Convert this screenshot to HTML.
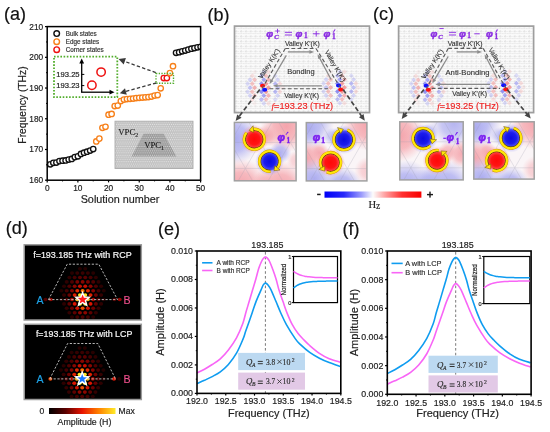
<!DOCTYPE html><html><head><meta charset="utf-8"><style>html,body{margin:0;padding:0;background:#fff;}svg{display:block;will-change:transform;}</style></head><body>
<svg width="550" height="432" viewBox="0 0 550 432">
<rect width="550" height="432" fill="#fff"/>
<text x="4" y="20.4" font-size="18" fill="#111" text-anchor="start" font-family='"Liberation Sans", sans-serif' font-weight="normal" font-style="normal" stroke="#111" stroke-width="0.18" >(a)</text>
<line x1="45" y1="180.2" x2="47.2" y2="180.2" stroke="#000" stroke-width="1.2"/>
<text x="43.2" y="183.1" font-size="8.3" fill="#222" text-anchor="end" font-family='"Liberation Sans", sans-serif' font-weight="normal" font-style="normal" stroke="#222" stroke-width="0.18" >160</text>
<line x1="45" y1="149.48" x2="47.2" y2="149.48" stroke="#000" stroke-width="1.2"/>
<text x="43.2" y="152.38" font-size="8.3" fill="#222" text-anchor="end" font-family='"Liberation Sans", sans-serif' font-weight="normal" font-style="normal" stroke="#222" stroke-width="0.18" >170</text>
<line x1="45" y1="118.76" x2="47.2" y2="118.76" stroke="#000" stroke-width="1.2"/>
<text x="43.2" y="121.66" font-size="8.3" fill="#222" text-anchor="end" font-family='"Liberation Sans", sans-serif' font-weight="normal" font-style="normal" stroke="#222" stroke-width="0.18" >180</text>
<line x1="45" y1="88.04" x2="47.2" y2="88.04" stroke="#000" stroke-width="1.2"/>
<text x="43.2" y="90.94" font-size="8.3" fill="#222" text-anchor="end" font-family='"Liberation Sans", sans-serif' font-weight="normal" font-style="normal" stroke="#222" stroke-width="0.18" >190</text>
<line x1="45" y1="57.32" x2="47.2" y2="57.32" stroke="#000" stroke-width="1.2"/>
<text x="43.2" y="60.22" font-size="8.3" fill="#222" text-anchor="end" font-family='"Liberation Sans", sans-serif' font-weight="normal" font-style="normal" stroke="#222" stroke-width="0.18" >200</text>
<line x1="45" y1="26.6" x2="47.2" y2="26.6" stroke="#000" stroke-width="1.2"/>
<text x="43.2" y="29.5" font-size="8.3" fill="#222" text-anchor="end" font-family='"Liberation Sans", sans-serif' font-weight="normal" font-style="normal" stroke="#222" stroke-width="0.18" >210</text>
<line x1="46" y1="164.84" x2="47.2" y2="164.84" stroke="#000" stroke-width="1"/>
<line x1="46" y1="134.12" x2="47.2" y2="134.12" stroke="#000" stroke-width="1"/>
<line x1="46" y1="103.4" x2="47.2" y2="103.4" stroke="#000" stroke-width="1"/>
<line x1="46" y1="72.68" x2="47.2" y2="72.68" stroke="#000" stroke-width="1"/>
<line x1="46" y1="41.96" x2="47.2" y2="41.96" stroke="#000" stroke-width="1"/>
<line x1="47.2" y1="180.2" x2="47.2" y2="182.4" stroke="#000" stroke-width="1.2"/>
<text x="47.2" y="191" font-size="8.3" fill="#222" text-anchor="middle" font-family='"Liberation Sans", sans-serif' font-weight="normal" font-style="normal" stroke="#222" stroke-width="0.18" >0</text>
<line x1="77.88" y1="180.2" x2="77.88" y2="182.4" stroke="#000" stroke-width="1.2"/>
<text x="77.88" y="191" font-size="8.3" fill="#222" text-anchor="middle" font-family='"Liberation Sans", sans-serif' font-weight="normal" font-style="normal" stroke="#222" stroke-width="0.18" >10</text>
<line x1="108.56" y1="180.2" x2="108.56" y2="182.4" stroke="#000" stroke-width="1.2"/>
<text x="108.56" y="191" font-size="8.3" fill="#222" text-anchor="middle" font-family='"Liberation Sans", sans-serif' font-weight="normal" font-style="normal" stroke="#222" stroke-width="0.18" >20</text>
<line x1="139.24" y1="180.2" x2="139.24" y2="182.4" stroke="#000" stroke-width="1.2"/>
<text x="139.24" y="191" font-size="8.3" fill="#222" text-anchor="middle" font-family='"Liberation Sans", sans-serif' font-weight="normal" font-style="normal" stroke="#222" stroke-width="0.18" >30</text>
<line x1="169.92" y1="180.2" x2="169.92" y2="182.4" stroke="#000" stroke-width="1.2"/>
<text x="169.92" y="191" font-size="8.3" fill="#222" text-anchor="middle" font-family='"Liberation Sans", sans-serif' font-weight="normal" font-style="normal" stroke="#222" stroke-width="0.18" >40</text>
<line x1="200.6" y1="180.2" x2="200.6" y2="182.4" stroke="#000" stroke-width="1.2"/>
<text x="200.6" y="191" font-size="8.3" fill="#222" text-anchor="middle" font-family='"Liberation Sans", sans-serif' font-weight="normal" font-style="normal" stroke="#222" stroke-width="0.18" >50</text>
<line x1="62.54" y1="180.2" x2="62.54" y2="181.4" stroke="#000" stroke-width="1"/>
<line x1="93.22" y1="180.2" x2="93.22" y2="181.4" stroke="#000" stroke-width="1"/>
<line x1="123.9" y1="180.2" x2="123.9" y2="181.4" stroke="#000" stroke-width="1"/>
<line x1="154.58" y1="180.2" x2="154.58" y2="181.4" stroke="#000" stroke-width="1"/>
<line x1="185.26" y1="180.2" x2="185.26" y2="181.4" stroke="#000" stroke-width="1"/>
<text x="0" y="0" font-size="10.3" fill="#222" text-anchor="middle" font-family='"Liberation Sans", sans-serif' font-weight="normal" font-style="normal" stroke="#222" stroke-width="0.18" transform="translate(26.3,105) rotate(-90)">Frequency (THz)</text>
<text x="120" y="203.4" font-size="10.8" fill="#222" text-anchor="middle" font-family='"Liberation Sans", sans-serif' font-weight="normal" font-style="normal" stroke="#222" stroke-width="0.18" >Solution number</text>
<defs><pattern id="hexw" width="1.9" height="4.4" patternUnits="userSpaceOnUse"><circle cx="0.47" cy="1.1" r="0.5" fill="#f2f2f2"/><circle cx="1.42" cy="3.3" r="0.5" fill="#f2f2f2"/></pattern><pattern id="hexd" width="1.9" height="4.4" patternUnits="userSpaceOnUse"><circle cx="0.47" cy="1.1" r="0.55" fill="#dcdcdc"/><circle cx="1.42" cy="3.3" r="0.55" fill="#dcdcdc"/></pattern></defs>
<rect x="115" y="121.2" width="78" height="47.3" fill="#c2c2c2" stroke="#ababab" stroke-width="0.9"/>
<rect x="115.5" y="121.7" width="77" height="46.3" fill="url(#hexw)"/>
<polygon points="143.6,133.8 163.6,133.8 176.4,156.4 131.6,156.4" fill="#9a9a9a"/>
<polygon points="143.6,133.8 163.6,133.8 176.4,156.4 131.6,156.4" fill="url(#hexd)"/>
<text x="118.3" y="134.8" font-size="8.7" fill="#1a1a1a" text-anchor="start" font-family='"Liberation Serif", serif' font-weight="normal" font-style="normal" stroke="#1a1a1a" stroke-width="0.15">VPC<tspan font-size="5.8" dy="1.9">2</tspan></text>
<text x="144.2" y="147.6" font-size="8.7" fill="#1a1a1a" text-anchor="start" font-family='"Liberation Serif", serif' font-weight="normal" font-style="normal" stroke="#1a1a1a" stroke-width="0.15">VPC<tspan font-size="5.8" dy="1.9">1</tspan></text>
<clipPath id="clipa"><rect x="47.2" y="26.6" width="153.4" height="153.6"/></clipPath>
<g clip-path="url(#clipa)">
<circle cx="50.27" cy="164.3" r="2.7" fill="#fff" stroke="#111" stroke-width="1.35"/>
<circle cx="53.34" cy="162.8" r="2.7" fill="#fff" stroke="#111" stroke-width="1.35"/>
<circle cx="56.4" cy="162.5" r="2.7" fill="#fff" stroke="#111" stroke-width="1.35"/>
<circle cx="59.47" cy="161.1" r="2.7" fill="#fff" stroke="#111" stroke-width="1.35"/>
<circle cx="62.54" cy="160.7" r="2.7" fill="#fff" stroke="#111" stroke-width="1.35"/>
<circle cx="65.61" cy="160.4" r="2.7" fill="#fff" stroke="#111" stroke-width="1.35"/>
<circle cx="68.68" cy="159.5" r="2.7" fill="#fff" stroke="#111" stroke-width="1.35"/>
<circle cx="71.74" cy="158.9" r="2.7" fill="#fff" stroke="#111" stroke-width="1.35"/>
<circle cx="74.81" cy="157.1" r="2.7" fill="#fff" stroke="#111" stroke-width="1.35"/>
<circle cx="77.88" cy="156.3" r="2.7" fill="#fff" stroke="#111" stroke-width="1.35"/>
<circle cx="80.95" cy="153.9" r="2.7" fill="#fff" stroke="#111" stroke-width="1.35"/>
<circle cx="84.02" cy="152.7" r="2.7" fill="#fff" stroke="#111" stroke-width="1.35"/>
<circle cx="87.08" cy="151.7" r="2.7" fill="#fff" stroke="#111" stroke-width="1.35"/>
<circle cx="90.15" cy="150.5" r="2.7" fill="#fff" stroke="#111" stroke-width="1.35"/>
<circle cx="93.22" cy="149" r="2.7" fill="#fff" stroke="#111" stroke-width="1.35"/>
<circle cx="96.29" cy="141.4" r="2.7" fill="#fff" stroke="#f7801a" stroke-width="1.35"/>
<circle cx="99.36" cy="138.6" r="2.7" fill="#fff" stroke="#f7801a" stroke-width="1.35"/>
<circle cx="102.42" cy="127.8" r="2.7" fill="#fff" stroke="#f7801a" stroke-width="1.35"/>
<circle cx="105.49" cy="126.8" r="2.7" fill="#fff" stroke="#f7801a" stroke-width="1.35"/>
<circle cx="108.56" cy="114.7" r="2.7" fill="#fff" stroke="#f7801a" stroke-width="1.35"/>
<circle cx="111.63" cy="113.9" r="2.7" fill="#fff" stroke="#f7801a" stroke-width="1.35"/>
<circle cx="114.7" cy="106" r="2.7" fill="#fff" stroke="#f7801a" stroke-width="1.35"/>
<circle cx="117.76" cy="105.5" r="2.7" fill="#fff" stroke="#f7801a" stroke-width="1.35"/>
<circle cx="120.83" cy="101" r="2.7" fill="#fff" stroke="#f7801a" stroke-width="1.35"/>
<circle cx="123.9" cy="99.5" r="2.7" fill="#fff" stroke="#f7801a" stroke-width="1.35"/>
<circle cx="126.97" cy="99" r="2.7" fill="#fff" stroke="#f7801a" stroke-width="1.35"/>
<circle cx="130.04" cy="98.8" r="2.7" fill="#fff" stroke="#f7801a" stroke-width="1.35"/>
<circle cx="133.1" cy="98.5" r="2.7" fill="#fff" stroke="#f7801a" stroke-width="1.35"/>
<circle cx="136.17" cy="98" r="2.7" fill="#fff" stroke="#f7801a" stroke-width="1.35"/>
<circle cx="139.24" cy="97.8" r="2.7" fill="#fff" stroke="#f7801a" stroke-width="1.35"/>
<circle cx="142.31" cy="97.5" r="2.7" fill="#fff" stroke="#f7801a" stroke-width="1.35"/>
<circle cx="145.38" cy="97.3" r="2.7" fill="#fff" stroke="#f7801a" stroke-width="1.35"/>
<circle cx="148.44" cy="97" r="2.7" fill="#fff" stroke="#f7801a" stroke-width="1.35"/>
<circle cx="151.51" cy="96.5" r="2.7" fill="#fff" stroke="#f7801a" stroke-width="1.35"/>
<circle cx="154.58" cy="95.5" r="2.7" fill="#fff" stroke="#f7801a" stroke-width="1.35"/>
<circle cx="157.65" cy="95" r="2.7" fill="#fff" stroke="#f7801a" stroke-width="1.35"/>
<circle cx="160.72" cy="88.3" r="2.7" fill="#fff" stroke="#f7801a" stroke-width="1.35"/>
<circle cx="163.78" cy="78" r="2.7" fill="#fff" stroke="#ee1111" stroke-width="1.35"/>
<circle cx="166.85" cy="78" r="2.7" fill="#fff" stroke="#ee1111" stroke-width="1.35"/>
<circle cx="169.92" cy="73" r="2.7" fill="#fff" stroke="#f7801a" stroke-width="1.35"/>
<circle cx="172.99" cy="66.2" r="2.7" fill="#fff" stroke="#f7801a" stroke-width="1.35"/>
<circle cx="176.06" cy="52.8" r="2.7" fill="#fff" stroke="#111" stroke-width="1.35"/>
<circle cx="179.12" cy="52.2" r="2.7" fill="#fff" stroke="#111" stroke-width="1.35"/>
<circle cx="182.19" cy="51.3" r="2.7" fill="#fff" stroke="#111" stroke-width="1.35"/>
<circle cx="185.26" cy="50.5" r="2.7" fill="#fff" stroke="#111" stroke-width="1.35"/>
<circle cx="188.33" cy="49.6" r="2.7" fill="#fff" stroke="#111" stroke-width="1.35"/>
<circle cx="191.4" cy="48.7" r="2.7" fill="#fff" stroke="#111" stroke-width="1.35"/>
<circle cx="194.46" cy="48" r="2.7" fill="#fff" stroke="#111" stroke-width="1.35"/>
<circle cx="197.53" cy="47.3" r="2.7" fill="#fff" stroke="#111" stroke-width="1.35"/>
<circle cx="200.6" cy="46.8" r="2.7" fill="#fff" stroke="#111" stroke-width="1.35"/>
</g>
<rect x="47.2" y="26.6" width="153.4" height="153.6" fill="none" stroke="#000" stroke-width="1.5"/>
<circle cx="56.7" cy="33.6" r="2.8" fill="#fff" stroke="#111" stroke-width="1.4"/>
<text x="65.8" y="35.8" font-size="6.3" fill="#333" text-anchor="start" font-family='"Liberation Sans", sans-serif' font-weight="normal" font-style="normal" stroke="#333" stroke-width="0.18" >Bulk states</text>
<circle cx="56.7" cy="41.65" r="2.8" fill="#fff" stroke="#f7801a" stroke-width="1.4"/>
<text x="65.8" y="43.85" font-size="6.3" fill="#333" text-anchor="start" font-family='"Liberation Sans", sans-serif' font-weight="normal" font-style="normal" stroke="#333" stroke-width="0.18" >Edge states</text>
<circle cx="56.7" cy="49.7" r="2.8" fill="#fff" stroke="#ee1111" stroke-width="1.4"/>
<text x="65.8" y="51.9" font-size="6.3" fill="#333" text-anchor="start" font-family='"Liberation Sans", sans-serif' font-weight="normal" font-style="normal" stroke="#333" stroke-width="0.18" >Corner states</text>
<rect x="54" y="56.7" width="63.3" height="40.5" fill="none" stroke="#52ad2c" stroke-width="1.8" stroke-dasharray="1.6 1.6"/>
<rect x="156" y="73.5" width="17.5" height="9.8" fill="none" stroke="#52ad2c" stroke-width="1.4" stroke-dasharray="1.3 1.4"/>
<line x1="81.7" y1="92.2" x2="81.7" y2="62" stroke="#000" stroke-width="1.3"/>
<polygon points="81.7,58.5 79.3,63.5 84.1,63.5" fill="#000"/>
<line x1="81.1" y1="92.2" x2="110.5" y2="92.2" stroke="#000" stroke-width="1.3"/>
<polygon points="114.5,92.2 109.5,89.8 109.5,94.6" fill="#000"/>
<line x1="81.7" y1="74.4" x2="84.3" y2="74.4" stroke="#000" stroke-width="1"/>
<line x1="81.7" y1="85.6" x2="84.3" y2="85.6" stroke="#000" stroke-width="1"/>
<text x="79.6" y="77.1" font-size="7.6" fill="#222" text-anchor="end" font-family='"Liberation Sans", sans-serif' font-weight="normal" font-style="normal" stroke="#222" stroke-width="0.18" >193.25</text>
<text x="79.6" y="88.3" font-size="7.6" fill="#222" text-anchor="end" font-family='"Liberation Sans", sans-serif' font-weight="normal" font-style="normal" stroke="#222" stroke-width="0.18" >193.23</text>
<circle cx="101.1" cy="72.1" r="4.2" fill="none" stroke="#ee1111" stroke-width="1.5"/>
<circle cx="91.9" cy="85.2" r="4.2" fill="none" stroke="#ee1111" stroke-width="1.5"/>
<line x1="155.8" y1="72.6" x2="124" y2="61.2" stroke="#3a3a3a" stroke-width="1.3" stroke-dasharray="3.4 2.2"/>
<polygon points="118.6,59.0 125.9,57.9 123.7,64.4" fill="#3a3a3a"/>
<line x1="156.3" y1="83" x2="125" y2="91.6" stroke="#3a3a3a" stroke-width="1.3" stroke-dasharray="3.4 2.2"/>
<polygon points="119.8,93.2 125.0,88.3 126.8,94.7" fill="#3a3a3a"/>
<defs><pattern id="hexbg" width="4.8" height="5.0" patternUnits="userSpaceOnUse"><polygon points="1.2,0.4 2.1,1.9 0.3,1.9" fill="none" stroke="#cbcbcb" stroke-width="0.45"/><circle cx="3.6" cy="1.3" r="0.4" fill="#d2d2d2"/><rect x="0.2" y="3.5" width="1.9" height="0.55" fill="#dadada"/><rect x="2.6" y="3.5" width="1.9" height="0.55" fill="#dadada"/></pattern><radialGradient id="gMR"><stop offset="0" stop-color="#ff0808"/><stop offset="0.55" stop-color="#ff1414"/><stop offset="0.85" stop-color="#ff3c3c" stop-opacity="0.9"/><stop offset="1" stop-color="#ff7070" stop-opacity="0.3"/></radialGradient><radialGradient id="gMB"><stop offset="0" stop-color="#0c0ce0"/><stop offset="0.55" stop-color="#1c1cec"/><stop offset="0.85" stop-color="#4444f4" stop-opacity="0.9"/><stop offset="1" stop-color="#7070f8" stop-opacity="0.3"/></radialGradient><radialGradient id="gHR"><stop offset="0.45" stop-color="#ff6060" stop-opacity="0.75"/><stop offset="1" stop-color="#ff9090" stop-opacity="0"/></radialGradient><radialGradient id="gHB"><stop offset="0.45" stop-color="#6060ff" stop-opacity="0.75"/><stop offset="1" stop-color="#9090ff" stop-opacity="0"/></radialGradient><radialGradient id="gLR"><stop offset="0" stop-color="#f4a4ac" stop-opacity="1"/><stop offset="0.5" stop-color="#f6b2b8" stop-opacity="0.9"/><stop offset="1" stop-color="#f8c0c4" stop-opacity="0"/></radialGradient><radialGradient id="gLB"><stop offset="0" stop-color="#aaaaee" stop-opacity="1"/><stop offset="0.5" stop-color="#b8b8f2" stop-opacity="0.9"/><stop offset="1" stop-color="#c4c4f4" stop-opacity="0"/></radialGradient><linearGradient id="cbHz" x1="0" x2="1" y1="0" y2="0"><stop offset="0" stop-color="#0000f8"/><stop offset="0.2" stop-color="#2828fa"/><stop offset="0.38" stop-color="#9a9afc"/><stop offset="0.5" stop-color="#fcfcfc"/><stop offset="0.62" stop-color="#ffa4a4"/><stop offset="0.8" stop-color="#ff3030"/><stop offset="1" stop-color="#f80000"/></linearGradient></defs>
<text x="207.6" y="21" font-size="18" fill="#111" text-anchor="start" font-family='"Liberation Sans", sans-serif' font-weight="normal" font-style="normal" stroke="#111" stroke-width="0.18" >(b)</text>
<rect x="234.5" y="26.1" width="135" height="86.5" fill="#fafafa"/>
<rect x="234.5" y="26.1" width="135" height="86.5" fill="url(#hexbg)"/>
<rect x="252.85" y="70.13" width="3.5" height="3.5" fill="#f07a7a" opacity="0.07" transform="rotate(45 254.6 71.88)"/>
<rect x="262.05" y="70.13" width="3.5" height="3.5" fill="#6a6af0" opacity="0.22" transform="rotate(45 263.8 71.88)"/>
<rect x="266.65" y="70.13" width="3.5" height="3.5" fill="#f07a7a" opacity="0.19" transform="rotate(45 268.4 71.88)"/>
<rect x="250.55" y="74.08" width="3.5" height="3.5" fill="#f07a7a" opacity="0.2" transform="rotate(45 252.3 75.83)"/>
<rect x="259.75" y="74.08" width="3.5" height="3.5" fill="#6a6af0" opacity="0.41" transform="rotate(45 261.5 75.83)"/>
<rect x="264.35" y="74.08" width="3.5" height="3.5" fill="#f07a7a" opacity="0.41" transform="rotate(45 266.1 75.83)"/>
<rect x="273.55" y="74.08" width="3.5" height="3.5" fill="#6a6af0" opacity="0.2" transform="rotate(45 275.3 75.83)"/>
<rect x="248.25" y="78.04" width="3.5" height="3.5" fill="#6a6af0" opacity="0.25" transform="rotate(45 250 79.79)"/>
<rect x="252.85" y="78.04" width="3.5" height="3.5" fill="#f07a7a" opacity="0.42" transform="rotate(45 254.6 79.79)"/>
<rect x="262.05" y="78.04" width="3.5" height="3.5" fill="#6a6af0" opacity="0.58" transform="rotate(45 263.8 79.79)"/>
<rect x="266.65" y="78.04" width="3.5" height="3.5" fill="#f07a7a" opacity="0.53" transform="rotate(45 268.4 79.79)"/>
<rect x="275.85" y="78.04" width="3.5" height="3.5" fill="#6a6af0" opacity="0.25" transform="rotate(45 277.6 79.79)"/>
<rect x="245.95" y="81.99" width="3.5" height="3.5" fill="#6a6af0" opacity="0.22" transform="rotate(45 247.7 83.74)"/>
<rect x="250.55" y="81.99" width="3.5" height="3.5" fill="#f07a7a" opacity="0.43" transform="rotate(45 252.3 83.74)"/>
<rect x="259.75" y="81.99" width="3.5" height="3.5" fill="#6a6af0" opacity="0.7" transform="rotate(45 261.5 83.74)"/>
<rect x="264.35" y="81.99" width="3.5" height="3.5" fill="#f07a7a" opacity="0.7" transform="rotate(45 266.1 83.74)"/>
<rect x="273.55" y="81.99" width="3.5" height="3.5" fill="#6a6af0" opacity="0.43" transform="rotate(45 275.3 83.74)"/>
<rect x="278.15" y="81.99" width="3.5" height="3.5" fill="#f07a7a" opacity="0.22" transform="rotate(45 279.9 83.74)"/>
<rect x="248.25" y="85.95" width="3.5" height="3.5" fill="#6a6af0" opacity="0.36" transform="rotate(45 250 87.7)"/>
<rect x="252.85" y="85.95" width="3.5" height="3.5" fill="#f07a7a" opacity="0.54" transform="rotate(45 254.6 87.7)"/>
<rect x="266.65" y="85.95" width="3.5" height="3.5" fill="#f07a7a" opacity="0.7" transform="rotate(45 268.4 87.7)"/>
<rect x="275.85" y="85.95" width="3.5" height="3.5" fill="#6a6af0" opacity="0.36" transform="rotate(45 277.6 87.7)"/>
<rect x="280.45" y="85.95" width="3.5" height="3.5" fill="#f07a7a" opacity="0.11" transform="rotate(45 282.2 87.7)"/>
<rect x="245.95" y="89.91" width="3.5" height="3.5" fill="#6a6af0" opacity="0.22" transform="rotate(45 247.7 91.66)"/>
<rect x="250.55" y="89.91" width="3.5" height="3.5" fill="#f07a7a" opacity="0.43" transform="rotate(45 252.3 91.66)"/>
<rect x="259.75" y="89.91" width="3.5" height="3.5" fill="#6a6af0" opacity="0.7" transform="rotate(45 261.5 91.66)"/>
<rect x="264.35" y="89.91" width="3.5" height="3.5" fill="#f07a7a" opacity="0.7" transform="rotate(45 266.1 91.66)"/>
<rect x="273.55" y="89.91" width="3.5" height="3.5" fill="#6a6af0" opacity="0.43" transform="rotate(45 275.3 91.66)"/>
<rect x="278.15" y="89.91" width="3.5" height="3.5" fill="#f07a7a" opacity="0.22" transform="rotate(45 279.9 91.66)"/>
<rect x="248.25" y="93.86" width="3.5" height="3.5" fill="#6a6af0" opacity="0.25" transform="rotate(45 250 95.61)"/>
<rect x="252.85" y="93.86" width="3.5" height="3.5" fill="#f07a7a" opacity="0.42" transform="rotate(45 254.6 95.61)"/>
<rect x="262.05" y="93.86" width="3.5" height="3.5" fill="#6a6af0" opacity="0.58" transform="rotate(45 263.8 95.61)"/>
<rect x="266.65" y="93.86" width="3.5" height="3.5" fill="#f07a7a" opacity="0.53" transform="rotate(45 268.4 95.61)"/>
<rect x="275.85" y="93.86" width="3.5" height="3.5" fill="#6a6af0" opacity="0.25" transform="rotate(45 277.6 95.61)"/>
<rect x="250.55" y="97.82" width="3.5" height="3.5" fill="#f07a7a" opacity="0.2" transform="rotate(45 252.3 99.57)"/>
<rect x="259.75" y="97.82" width="3.5" height="3.5" fill="#6a6af0" opacity="0.41" transform="rotate(45 261.5 99.57)"/>
<rect x="264.35" y="97.82" width="3.5" height="3.5" fill="#f07a7a" opacity="0.41" transform="rotate(45 266.1 99.57)"/>
<rect x="273.55" y="97.82" width="3.5" height="3.5" fill="#6a6af0" opacity="0.2" transform="rotate(45 275.3 99.57)"/>
<rect x="252.85" y="101.77" width="3.5" height="3.5" fill="#f07a7a" opacity="0.07" transform="rotate(45 254.6 103.52)"/>
<rect x="262.05" y="101.77" width="3.5" height="3.5" fill="#6a6af0" opacity="0.22" transform="rotate(45 263.8 103.52)"/>
<rect x="266.65" y="101.77" width="3.5" height="3.5" fill="#f07a7a" opacity="0.19" transform="rotate(45 268.4 103.52)"/>
<ellipse cx="262.6" cy="85.7" rx="2.6" ry="2.0" fill="#ff1010"/>
<ellipse cx="264.7" cy="89.7" rx="2.6" ry="2.0" fill="#1010ff"/>
<rect x="328.85" y="69.93" width="3.5" height="3.5" fill="#f07a7a" opacity="0.07" transform="rotate(45 330.6 71.68)"/>
<rect x="338.05" y="69.93" width="3.5" height="3.5" fill="#6a6af0" opacity="0.22" transform="rotate(45 339.8 71.68)"/>
<rect x="342.65" y="69.93" width="3.5" height="3.5" fill="#f07a7a" opacity="0.19" transform="rotate(45 344.4 71.68)"/>
<rect x="326.55" y="73.88" width="3.5" height="3.5" fill="#f07a7a" opacity="0.2" transform="rotate(45 328.3 75.63)"/>
<rect x="335.75" y="73.88" width="3.5" height="3.5" fill="#6a6af0" opacity="0.41" transform="rotate(45 337.5 75.63)"/>
<rect x="340.35" y="73.88" width="3.5" height="3.5" fill="#f07a7a" opacity="0.41" transform="rotate(45 342.1 75.63)"/>
<rect x="349.55" y="73.88" width="3.5" height="3.5" fill="#6a6af0" opacity="0.2" transform="rotate(45 351.3 75.63)"/>
<rect x="324.25" y="77.84" width="3.5" height="3.5" fill="#6a6af0" opacity="0.25" transform="rotate(45 326 79.59)"/>
<rect x="328.85" y="77.84" width="3.5" height="3.5" fill="#f07a7a" opacity="0.42" transform="rotate(45 330.6 79.59)"/>
<rect x="338.05" y="77.84" width="3.5" height="3.5" fill="#6a6af0" opacity="0.58" transform="rotate(45 339.8 79.59)"/>
<rect x="342.65" y="77.84" width="3.5" height="3.5" fill="#f07a7a" opacity="0.53" transform="rotate(45 344.4 79.59)"/>
<rect x="351.85" y="77.84" width="3.5" height="3.5" fill="#6a6af0" opacity="0.25" transform="rotate(45 353.6 79.59)"/>
<rect x="321.95" y="81.79" width="3.5" height="3.5" fill="#6a6af0" opacity="0.22" transform="rotate(45 323.7 83.54)"/>
<rect x="326.55" y="81.79" width="3.5" height="3.5" fill="#f07a7a" opacity="0.43" transform="rotate(45 328.3 83.54)"/>
<rect x="335.75" y="81.79" width="3.5" height="3.5" fill="#6a6af0" opacity="0.7" transform="rotate(45 337.5 83.54)"/>
<rect x="340.35" y="81.79" width="3.5" height="3.5" fill="#f07a7a" opacity="0.7" transform="rotate(45 342.1 83.54)"/>
<rect x="349.55" y="81.79" width="3.5" height="3.5" fill="#6a6af0" opacity="0.43" transform="rotate(45 351.3 83.54)"/>
<rect x="354.15" y="81.79" width="3.5" height="3.5" fill="#f07a7a" opacity="0.22" transform="rotate(45 355.9 83.54)"/>
<rect x="324.25" y="85.75" width="3.5" height="3.5" fill="#6a6af0" opacity="0.36" transform="rotate(45 326 87.5)"/>
<rect x="328.85" y="85.75" width="3.5" height="3.5" fill="#f07a7a" opacity="0.54" transform="rotate(45 330.6 87.5)"/>
<rect x="342.65" y="85.75" width="3.5" height="3.5" fill="#f07a7a" opacity="0.7" transform="rotate(45 344.4 87.5)"/>
<rect x="351.85" y="85.75" width="3.5" height="3.5" fill="#6a6af0" opacity="0.36" transform="rotate(45 353.6 87.5)"/>
<rect x="356.45" y="85.75" width="3.5" height="3.5" fill="#f07a7a" opacity="0.11" transform="rotate(45 358.2 87.5)"/>
<rect x="321.95" y="89.71" width="3.5" height="3.5" fill="#6a6af0" opacity="0.22" transform="rotate(45 323.7 91.46)"/>
<rect x="326.55" y="89.71" width="3.5" height="3.5" fill="#f07a7a" opacity="0.43" transform="rotate(45 328.3 91.46)"/>
<rect x="335.75" y="89.71" width="3.5" height="3.5" fill="#6a6af0" opacity="0.7" transform="rotate(45 337.5 91.46)"/>
<rect x="340.35" y="89.71" width="3.5" height="3.5" fill="#f07a7a" opacity="0.7" transform="rotate(45 342.1 91.46)"/>
<rect x="349.55" y="89.71" width="3.5" height="3.5" fill="#6a6af0" opacity="0.43" transform="rotate(45 351.3 91.46)"/>
<rect x="354.15" y="89.71" width="3.5" height="3.5" fill="#f07a7a" opacity="0.22" transform="rotate(45 355.9 91.46)"/>
<rect x="324.25" y="93.66" width="3.5" height="3.5" fill="#6a6af0" opacity="0.25" transform="rotate(45 326 95.41)"/>
<rect x="328.85" y="93.66" width="3.5" height="3.5" fill="#f07a7a" opacity="0.42" transform="rotate(45 330.6 95.41)"/>
<rect x="338.05" y="93.66" width="3.5" height="3.5" fill="#6a6af0" opacity="0.58" transform="rotate(45 339.8 95.41)"/>
<rect x="342.65" y="93.66" width="3.5" height="3.5" fill="#f07a7a" opacity="0.53" transform="rotate(45 344.4 95.41)"/>
<rect x="351.85" y="93.66" width="3.5" height="3.5" fill="#6a6af0" opacity="0.25" transform="rotate(45 353.6 95.41)"/>
<rect x="326.55" y="97.62" width="3.5" height="3.5" fill="#f07a7a" opacity="0.2" transform="rotate(45 328.3 99.37)"/>
<rect x="335.75" y="97.62" width="3.5" height="3.5" fill="#6a6af0" opacity="0.41" transform="rotate(45 337.5 99.37)"/>
<rect x="340.35" y="97.62" width="3.5" height="3.5" fill="#f07a7a" opacity="0.41" transform="rotate(45 342.1 99.37)"/>
<rect x="349.55" y="97.62" width="3.5" height="3.5" fill="#6a6af0" opacity="0.2" transform="rotate(45 351.3 99.37)"/>
<rect x="328.85" y="101.57" width="3.5" height="3.5" fill="#f07a7a" opacity="0.07" transform="rotate(45 330.6 103.32)"/>
<rect x="338.05" y="101.57" width="3.5" height="3.5" fill="#6a6af0" opacity="0.22" transform="rotate(45 339.8 103.32)"/>
<rect x="342.65" y="101.57" width="3.5" height="3.5" fill="#f07a7a" opacity="0.19" transform="rotate(45 344.4 103.32)"/>
<ellipse cx="338.6" cy="85.5" rx="2.6" ry="2.0" fill="#1010ff"/>
<ellipse cx="340.7" cy="89.5" rx="2.6" ry="2.0" fill="#ff1010"/>
<rect x="234.5" y="26.1" width="135" height="86.5" fill="none" stroke="#9e9e9e" stroke-width="1.7"/>
<line x1="285.3" y1="48.5" x2="316" y2="48.5" stroke="#5c5c5c" stroke-width="1.15" stroke-dasharray="3.8 2.3"/>
<line x1="285.3" y1="48.5" x2="262" y2="88.6" stroke="#5c5c5c" stroke-width="1.15" stroke-dasharray="3.8 2.3"/>
<line x1="316" y1="48.5" x2="341" y2="88.6" stroke="#5c5c5c" stroke-width="1.15" stroke-dasharray="3.8 2.3"/>
<line x1="269.5" y1="88.7" x2="330" y2="88.7" stroke="#5c5c5c" stroke-width="1.15" stroke-dasharray="3.8 2.3"/>
<line x1="287.8" y1="51.9" x2="309.9" y2="51.9" stroke="#8c8c8c" stroke-width="1.3"/>
<polygon points="314,51.9 309.4,53.7 309.4,50.1" fill="#8c8c8c"/>
<line x1="286.3" y1="55.4" x2="271.67" y2="80.46" stroke="#8c8c8c" stroke-width="1.3"/>
<polygon points="269.6,84 270.37,79.12 273.47,80.94" fill="#8c8c8c"/>
<line x1="321.8" y1="85.8" x2="277.1" y2="85.8" stroke="#8c8c8c" stroke-width="1.3"/>
<polygon points="273,85.8 277.6,84 277.6,87.6" fill="#8c8c8c"/>
<line x1="331.1" y1="79.5" x2="319.53" y2="57.82" stroke="#8c8c8c" stroke-width="1.3"/>
<polygon points="317.6,54.2 321.35,57.41 318.18,59.11" fill="#8c8c8c"/>
<text x="302.3" y="45.9" font-size="6.8" fill="#333" stroke="#333" stroke-width="0.12" text-anchor="middle" font-family='"Liberation Sans", sans-serif'>Valley K'(K)</text>
<text x="301.7" y="97.6" font-size="6.8" fill="#333" stroke="#333" stroke-width="0.12" text-anchor="middle" font-family='"Liberation Sans", sans-serif'>Valley K'(K)</text>
<text x="0" y="0" font-size="6.7" fill="#333" stroke="#333" stroke-width="0.12" text-anchor="middle" font-family='"Liberation Sans", sans-serif' transform="translate(269,63.7) rotate(-57.3) translate(0,2.3)">Valley K(K')</text>
<text x="0" y="0" font-size="6.7" fill="#333" stroke="#333" stroke-width="0.12" text-anchor="middle" font-family='"Liberation Sans", sans-serif' transform="translate(335.3,65.9) rotate(60) translate(0,2.3)">Valley K'(K')</text>
<text x="300.9" y="73.5" font-size="7.5" fill="#333" stroke="#333" stroke-width="0.12" text-anchor="middle" font-family='"Liberation Sans", sans-serif'>Bonding</text>
<text x="271.5" y="108.7" font-size="9.2" fill="#ee2020" stroke="#ee2020" stroke-width="0.15" font-family='"Liberation Sans", sans-serif'><tspan font-family='"Liberation Serif", serif' font-style="italic">f</tspan>=193.23 (THz)</text>
<text x="266.3" y="36.6" font-size="9.8" fill="#8a2be2" font-family='"Liberation Sans", sans-serif' font-weight="bold" font-style="italic" stroke="#8a2be2" stroke-width="0.45">φ</text>
<text x="274.2" y="39.4" font-size="6.8" fill="#8a2be2" font-family='"Liberation Serif", serif' font-weight="bold" font-style="italic" stroke="#8a2be2" stroke-width="0.3">C</text>
<rect x="275.3" y="30.55" width="4.3" height="0.9" fill="#8a2be2"/>
<rect x="277" y="28.8" width="0.9" height="4.4" fill="#8a2be2"/>
<rect x="284.8" y="31.82" width="7.2" height="0.95" fill="#8a2be2"/>
<rect x="284.8" y="34.52" width="7.2" height="0.95" fill="#8a2be2"/>
<text x="295.6" y="36.6" font-size="9.8" fill="#8a2be2" font-family='"Liberation Sans", sans-serif' font-weight="bold" font-style="italic" stroke="#8a2be2" stroke-width="0.45">φ</text>
<text x="303.9" y="38.4" font-size="7.4" fill="#8a2be2" font-family='"Liberation Serif", serif' font-weight="bold" font-style="normal" stroke="#8a2be2" stroke-width="0.3">1</text>
<rect x="312.8" y="33.32" width="6.8" height="0.95" fill="#8a2be2"/>
<rect x="315.72" y="31" width="0.95" height="5.6" fill="#8a2be2"/>
<text x="323.5" y="36.6" font-size="9.8" fill="#8a2be2" font-family='"Liberation Sans", sans-serif' font-weight="bold" font-style="italic" stroke="#8a2be2" stroke-width="0.45">φ</text>
<polygon points="334.2,29.4 335.7,29.6 333.3,32.9 332.7,32.7" fill="#8a2be2"/>
<text x="331.9" y="38.9" font-size="7.4" fill="#8a2be2" font-family='"Liberation Serif", serif' font-weight="bold" font-style="normal" stroke="#8a2be2" stroke-width="0.3">1</text>
<line x1="259.8" y1="89.4" x2="239.07" y2="116.47" stroke="#454545" stroke-width="1.7" stroke-dasharray="4.6 2.6"/>
<polygon points="235.6,121 237.15,114.38 241.59,117.78" fill="#454545"/>
<line x1="343.2" y1="89.6" x2="361.56" y2="116.11" stroke="#454545" stroke-width="1.7" stroke-dasharray="4.6 2.6"/>
<polygon points="364.8,120.8 358.97,117.3 363.57,114.11" fill="#454545"/>
<text x="373" y="20.4" font-size="18" fill="#111" text-anchor="start" font-family='"Liberation Sans", sans-serif' font-weight="normal" font-style="normal" stroke="#111" stroke-width="0.18" >(c)</text>
<rect x="398.6" y="26.1" width="135" height="86.5" fill="#fafafa"/>
<rect x="398.6" y="26.1" width="135" height="86.5" fill="url(#hexbg)"/>
<rect x="416.45" y="70.23" width="3.5" height="3.5" fill="#f07a7a" opacity="0.07" transform="rotate(45 418.2 71.98)"/>
<rect x="425.65" y="70.23" width="3.5" height="3.5" fill="#6a6af0" opacity="0.22" transform="rotate(45 427.4 71.98)"/>
<rect x="430.25" y="70.23" width="3.5" height="3.5" fill="#f07a7a" opacity="0.19" transform="rotate(45 432 71.98)"/>
<rect x="414.15" y="74.18" width="3.5" height="3.5" fill="#f07a7a" opacity="0.2" transform="rotate(45 415.9 75.93)"/>
<rect x="423.35" y="74.18" width="3.5" height="3.5" fill="#6a6af0" opacity="0.41" transform="rotate(45 425.1 75.93)"/>
<rect x="427.95" y="74.18" width="3.5" height="3.5" fill="#f07a7a" opacity="0.41" transform="rotate(45 429.7 75.93)"/>
<rect x="437.15" y="74.18" width="3.5" height="3.5" fill="#6a6af0" opacity="0.2" transform="rotate(45 438.9 75.93)"/>
<rect x="411.85" y="78.14" width="3.5" height="3.5" fill="#6a6af0" opacity="0.25" transform="rotate(45 413.6 79.89)"/>
<rect x="416.45" y="78.14" width="3.5" height="3.5" fill="#f07a7a" opacity="0.42" transform="rotate(45 418.2 79.89)"/>
<rect x="425.65" y="78.14" width="3.5" height="3.5" fill="#6a6af0" opacity="0.58" transform="rotate(45 427.4 79.89)"/>
<rect x="430.25" y="78.14" width="3.5" height="3.5" fill="#f07a7a" opacity="0.53" transform="rotate(45 432 79.89)"/>
<rect x="439.45" y="78.14" width="3.5" height="3.5" fill="#6a6af0" opacity="0.25" transform="rotate(45 441.2 79.89)"/>
<rect x="409.55" y="82.09" width="3.5" height="3.5" fill="#6a6af0" opacity="0.22" transform="rotate(45 411.3 83.84)"/>
<rect x="414.15" y="82.09" width="3.5" height="3.5" fill="#f07a7a" opacity="0.43" transform="rotate(45 415.9 83.84)"/>
<rect x="423.35" y="82.09" width="3.5" height="3.5" fill="#6a6af0" opacity="0.7" transform="rotate(45 425.1 83.84)"/>
<rect x="427.95" y="82.09" width="3.5" height="3.5" fill="#f07a7a" opacity="0.7" transform="rotate(45 429.7 83.84)"/>
<rect x="437.15" y="82.09" width="3.5" height="3.5" fill="#6a6af0" opacity="0.43" transform="rotate(45 438.9 83.84)"/>
<rect x="441.75" y="82.09" width="3.5" height="3.5" fill="#f07a7a" opacity="0.22" transform="rotate(45 443.5 83.84)"/>
<rect x="411.85" y="86.05" width="3.5" height="3.5" fill="#6a6af0" opacity="0.36" transform="rotate(45 413.6 87.8)"/>
<rect x="416.45" y="86.05" width="3.5" height="3.5" fill="#f07a7a" opacity="0.54" transform="rotate(45 418.2 87.8)"/>
<rect x="430.25" y="86.05" width="3.5" height="3.5" fill="#f07a7a" opacity="0.7" transform="rotate(45 432 87.8)"/>
<rect x="439.45" y="86.05" width="3.5" height="3.5" fill="#6a6af0" opacity="0.36" transform="rotate(45 441.2 87.8)"/>
<rect x="444.05" y="86.05" width="3.5" height="3.5" fill="#f07a7a" opacity="0.11" transform="rotate(45 445.8 87.8)"/>
<rect x="409.55" y="90.01" width="3.5" height="3.5" fill="#6a6af0" opacity="0.22" transform="rotate(45 411.3 91.76)"/>
<rect x="414.15" y="90.01" width="3.5" height="3.5" fill="#f07a7a" opacity="0.43" transform="rotate(45 415.9 91.76)"/>
<rect x="423.35" y="90.01" width="3.5" height="3.5" fill="#6a6af0" opacity="0.7" transform="rotate(45 425.1 91.76)"/>
<rect x="427.95" y="90.01" width="3.5" height="3.5" fill="#f07a7a" opacity="0.7" transform="rotate(45 429.7 91.76)"/>
<rect x="437.15" y="90.01" width="3.5" height="3.5" fill="#6a6af0" opacity="0.43" transform="rotate(45 438.9 91.76)"/>
<rect x="441.75" y="90.01" width="3.5" height="3.5" fill="#f07a7a" opacity="0.22" transform="rotate(45 443.5 91.76)"/>
<rect x="411.85" y="93.96" width="3.5" height="3.5" fill="#6a6af0" opacity="0.25" transform="rotate(45 413.6 95.71)"/>
<rect x="416.45" y="93.96" width="3.5" height="3.5" fill="#f07a7a" opacity="0.42" transform="rotate(45 418.2 95.71)"/>
<rect x="425.65" y="93.96" width="3.5" height="3.5" fill="#6a6af0" opacity="0.58" transform="rotate(45 427.4 95.71)"/>
<rect x="430.25" y="93.96" width="3.5" height="3.5" fill="#f07a7a" opacity="0.53" transform="rotate(45 432 95.71)"/>
<rect x="439.45" y="93.96" width="3.5" height="3.5" fill="#6a6af0" opacity="0.25" transform="rotate(45 441.2 95.71)"/>
<rect x="414.15" y="97.92" width="3.5" height="3.5" fill="#f07a7a" opacity="0.2" transform="rotate(45 415.9 99.67)"/>
<rect x="423.35" y="97.92" width="3.5" height="3.5" fill="#6a6af0" opacity="0.41" transform="rotate(45 425.1 99.67)"/>
<rect x="427.95" y="97.92" width="3.5" height="3.5" fill="#f07a7a" opacity="0.41" transform="rotate(45 429.7 99.67)"/>
<rect x="437.15" y="97.92" width="3.5" height="3.5" fill="#6a6af0" opacity="0.2" transform="rotate(45 438.9 99.67)"/>
<rect x="416.45" y="101.87" width="3.5" height="3.5" fill="#f07a7a" opacity="0.07" transform="rotate(45 418.2 103.62)"/>
<rect x="425.65" y="101.87" width="3.5" height="3.5" fill="#6a6af0" opacity="0.22" transform="rotate(45 427.4 103.62)"/>
<rect x="430.25" y="101.87" width="3.5" height="3.5" fill="#f07a7a" opacity="0.19" transform="rotate(45 432 103.62)"/>
<ellipse cx="426.2" cy="85.8" rx="2.6" ry="2.0" fill="#1010ff"/>
<ellipse cx="428.3" cy="89.8" rx="2.6" ry="2.0" fill="#ff1010"/>
<rect x="493.95" y="69.73" width="3.5" height="3.5" fill="#f07a7a" opacity="0.07" transform="rotate(45 495.7 71.48)"/>
<rect x="503.15" y="69.73" width="3.5" height="3.5" fill="#6a6af0" opacity="0.22" transform="rotate(45 504.9 71.48)"/>
<rect x="507.75" y="69.73" width="3.5" height="3.5" fill="#f07a7a" opacity="0.19" transform="rotate(45 509.5 71.48)"/>
<rect x="491.65" y="73.68" width="3.5" height="3.5" fill="#f07a7a" opacity="0.2" transform="rotate(45 493.4 75.43)"/>
<rect x="500.85" y="73.68" width="3.5" height="3.5" fill="#6a6af0" opacity="0.41" transform="rotate(45 502.6 75.43)"/>
<rect x="505.45" y="73.68" width="3.5" height="3.5" fill="#f07a7a" opacity="0.41" transform="rotate(45 507.2 75.43)"/>
<rect x="514.65" y="73.68" width="3.5" height="3.5" fill="#6a6af0" opacity="0.2" transform="rotate(45 516.4 75.43)"/>
<rect x="489.35" y="77.64" width="3.5" height="3.5" fill="#6a6af0" opacity="0.25" transform="rotate(45 491.1 79.39)"/>
<rect x="493.95" y="77.64" width="3.5" height="3.5" fill="#f07a7a" opacity="0.42" transform="rotate(45 495.7 79.39)"/>
<rect x="503.15" y="77.64" width="3.5" height="3.5" fill="#6a6af0" opacity="0.58" transform="rotate(45 504.9 79.39)"/>
<rect x="507.75" y="77.64" width="3.5" height="3.5" fill="#f07a7a" opacity="0.53" transform="rotate(45 509.5 79.39)"/>
<rect x="516.95" y="77.64" width="3.5" height="3.5" fill="#6a6af0" opacity="0.25" transform="rotate(45 518.7 79.39)"/>
<rect x="487.05" y="81.59" width="3.5" height="3.5" fill="#6a6af0" opacity="0.22" transform="rotate(45 488.8 83.34)"/>
<rect x="491.65" y="81.59" width="3.5" height="3.5" fill="#f07a7a" opacity="0.43" transform="rotate(45 493.4 83.34)"/>
<rect x="500.85" y="81.59" width="3.5" height="3.5" fill="#6a6af0" opacity="0.7" transform="rotate(45 502.6 83.34)"/>
<rect x="505.45" y="81.59" width="3.5" height="3.5" fill="#f07a7a" opacity="0.7" transform="rotate(45 507.2 83.34)"/>
<rect x="514.65" y="81.59" width="3.5" height="3.5" fill="#6a6af0" opacity="0.43" transform="rotate(45 516.4 83.34)"/>
<rect x="519.25" y="81.59" width="3.5" height="3.5" fill="#f07a7a" opacity="0.22" transform="rotate(45 521 83.34)"/>
<rect x="489.35" y="85.55" width="3.5" height="3.5" fill="#6a6af0" opacity="0.36" transform="rotate(45 491.1 87.3)"/>
<rect x="493.95" y="85.55" width="3.5" height="3.5" fill="#f07a7a" opacity="0.54" transform="rotate(45 495.7 87.3)"/>
<rect x="507.75" y="85.55" width="3.5" height="3.5" fill="#f07a7a" opacity="0.7" transform="rotate(45 509.5 87.3)"/>
<rect x="516.95" y="85.55" width="3.5" height="3.5" fill="#6a6af0" opacity="0.36" transform="rotate(45 518.7 87.3)"/>
<rect x="521.55" y="85.55" width="3.5" height="3.5" fill="#f07a7a" opacity="0.11" transform="rotate(45 523.3 87.3)"/>
<rect x="487.05" y="89.51" width="3.5" height="3.5" fill="#6a6af0" opacity="0.22" transform="rotate(45 488.8 91.26)"/>
<rect x="491.65" y="89.51" width="3.5" height="3.5" fill="#f07a7a" opacity="0.43" transform="rotate(45 493.4 91.26)"/>
<rect x="500.85" y="89.51" width="3.5" height="3.5" fill="#6a6af0" opacity="0.7" transform="rotate(45 502.6 91.26)"/>
<rect x="505.45" y="89.51" width="3.5" height="3.5" fill="#f07a7a" opacity="0.7" transform="rotate(45 507.2 91.26)"/>
<rect x="514.65" y="89.51" width="3.5" height="3.5" fill="#6a6af0" opacity="0.43" transform="rotate(45 516.4 91.26)"/>
<rect x="519.25" y="89.51" width="3.5" height="3.5" fill="#f07a7a" opacity="0.22" transform="rotate(45 521 91.26)"/>
<rect x="489.35" y="93.46" width="3.5" height="3.5" fill="#6a6af0" opacity="0.25" transform="rotate(45 491.1 95.21)"/>
<rect x="493.95" y="93.46" width="3.5" height="3.5" fill="#f07a7a" opacity="0.42" transform="rotate(45 495.7 95.21)"/>
<rect x="503.15" y="93.46" width="3.5" height="3.5" fill="#6a6af0" opacity="0.58" transform="rotate(45 504.9 95.21)"/>
<rect x="507.75" y="93.46" width="3.5" height="3.5" fill="#f07a7a" opacity="0.53" transform="rotate(45 509.5 95.21)"/>
<rect x="516.95" y="93.46" width="3.5" height="3.5" fill="#6a6af0" opacity="0.25" transform="rotate(45 518.7 95.21)"/>
<rect x="491.65" y="97.42" width="3.5" height="3.5" fill="#f07a7a" opacity="0.2" transform="rotate(45 493.4 99.17)"/>
<rect x="500.85" y="97.42" width="3.5" height="3.5" fill="#6a6af0" opacity="0.41" transform="rotate(45 502.6 99.17)"/>
<rect x="505.45" y="97.42" width="3.5" height="3.5" fill="#f07a7a" opacity="0.41" transform="rotate(45 507.2 99.17)"/>
<rect x="514.65" y="97.42" width="3.5" height="3.5" fill="#6a6af0" opacity="0.2" transform="rotate(45 516.4 99.17)"/>
<rect x="493.95" y="101.37" width="3.5" height="3.5" fill="#f07a7a" opacity="0.07" transform="rotate(45 495.7 103.12)"/>
<rect x="503.15" y="101.37" width="3.5" height="3.5" fill="#6a6af0" opacity="0.22" transform="rotate(45 504.9 103.12)"/>
<rect x="507.75" y="101.37" width="3.5" height="3.5" fill="#f07a7a" opacity="0.19" transform="rotate(45 509.5 103.12)"/>
<ellipse cx="503.7" cy="85.3" rx="2.6" ry="2.0" fill="#1010ff"/>
<ellipse cx="505.8" cy="89.3" rx="2.6" ry="2.0" fill="#ff1010"/>
<rect x="398.6" y="26.1" width="135" height="86.5" fill="none" stroke="#9e9e9e" stroke-width="1.7"/>
<line x1="448.2" y1="48.4" x2="483.2" y2="48.4" stroke="#5c5c5c" stroke-width="1.15" stroke-dasharray="3.8 2.3"/>
<line x1="448.2" y1="48.4" x2="426.5" y2="88.4" stroke="#5c5c5c" stroke-width="1.15" stroke-dasharray="3.8 2.3"/>
<line x1="483.2" y1="48.4" x2="506" y2="88.4" stroke="#5c5c5c" stroke-width="1.15" stroke-dasharray="3.8 2.3"/>
<line x1="431.7" y1="88.4" x2="500" y2="88.4" stroke="#5c5c5c" stroke-width="1.15" stroke-dasharray="3.8 2.3"/>
<line x1="456.7" y1="51.9" x2="477.7" y2="51.9" stroke="#8c8c8c" stroke-width="1.3"/>
<polygon points="481.8,51.9 477.2,53.7 477.2,50.1" fill="#8c8c8c"/>
<line x1="448.2" y1="56.5" x2="434.39" y2="79.87" stroke="#8c8c8c" stroke-width="1.3"/>
<polygon points="432.3,83.4 433.09,78.52 436.19,80.36" fill="#8c8c8c"/>
<line x1="490" y1="84.4" x2="439.4" y2="84.4" stroke="#8c8c8c" stroke-width="1.3"/>
<polygon points="435.3,84.4 439.9,82.6 439.9,86.2" fill="#8c8c8c"/>
<line x1="497.1" y1="78.2" x2="486.51" y2="58.03" stroke="#8c8c8c" stroke-width="1.3"/>
<polygon points="484.6,54.4 488.33,57.64 485.15,59.31" fill="#8c8c8c"/>
<text x="465.2" y="45.9" font-size="6.8" fill="#333" stroke="#333" stroke-width="0.12" text-anchor="middle" font-family='"Liberation Sans", sans-serif'>Valley K'(K)</text>
<text x="469.6" y="96.4" font-size="6.8" fill="#333" stroke="#333" stroke-width="0.12" text-anchor="middle" font-family='"Liberation Sans", sans-serif'>Valley K'(K)</text>
<text x="0" y="0" font-size="6.7" fill="#333" stroke="#333" stroke-width="0.12" text-anchor="middle" font-family='"Liberation Sans", sans-serif' transform="translate(432.3,64.1) rotate(-56.3) translate(0,2.3)">Valley K(K')</text>
<text x="0" y="0" font-size="6.7" fill="#333" stroke="#333" stroke-width="0.12" text-anchor="middle" font-family='"Liberation Sans", sans-serif' transform="translate(499.2,63.6) rotate(60) translate(0,2.3)">Valley K'(K')</text>
<text x="467.5" y="74.8" font-size="7.7" fill="#333" stroke="#333" stroke-width="0.12" text-anchor="middle" font-family='"Liberation Sans", sans-serif'>Anti-Bonding</text>
<text x="437.3" y="108.6" font-size="9.2" fill="#ee2020" stroke="#ee2020" stroke-width="0.15" font-family='"Liberation Sans", sans-serif'><tspan font-family='"Liberation Serif", serif' font-style="italic">f</tspan>=193.25 (THz)</text>
<text x="430.4" y="36.6" font-size="9.8" fill="#8a2be2" font-family='"Liberation Sans", sans-serif' font-weight="bold" font-style="italic" stroke="#8a2be2" stroke-width="0.45">φ</text>
<text x="438.3" y="39.4" font-size="6.8" fill="#8a2be2" font-family='"Liberation Serif", serif' font-weight="bold" font-style="italic" stroke="#8a2be2" stroke-width="0.3">C</text>
<rect x="439.4" y="28.15" width="4.3" height="0.9" fill="#8a2be2"/>
<rect x="448.9" y="31.82" width="7.2" height="0.95" fill="#8a2be2"/>
<rect x="448.9" y="34.52" width="7.2" height="0.95" fill="#8a2be2"/>
<text x="459.1" y="36.6" font-size="9.8" fill="#8a2be2" font-family='"Liberation Sans", sans-serif' font-weight="bold" font-style="italic" stroke="#8a2be2" stroke-width="0.45">φ</text>
<text x="467.2" y="38.4" font-size="7.4" fill="#8a2be2" font-family='"Liberation Serif", serif' font-weight="bold" font-style="normal" stroke="#8a2be2" stroke-width="0.3">1</text>
<rect x="474.3" y="33.32" width="5.4" height="0.95" fill="#8a2be2"/>
<text x="486" y="36.6" font-size="9.8" fill="#8a2be2" font-family='"Liberation Sans", sans-serif' font-weight="bold" font-style="italic" stroke="#8a2be2" stroke-width="0.45">φ</text>
<polygon points="496.7,29.4 498.2,29.6 495.8,32.9 495.2,32.7" fill="#8a2be2"/>
<text x="494.4" y="38.9" font-size="7.4" fill="#8a2be2" font-family='"Liberation Serif", serif' font-weight="bold" font-style="normal" stroke="#8a2be2" stroke-width="0.3">1</text>
<line x1="423.9" y1="89.4" x2="405.12" y2="114.44" stroke="#454545" stroke-width="1.7" stroke-dasharray="4.6 2.6"/>
<polygon points="401.7,119 403.18,112.36 407.66,115.72" fill="#454545"/>
<line x1="507.3" y1="89.6" x2="527.12" y2="114.16" stroke="#454545" stroke-width="1.7" stroke-dasharray="4.6 2.6"/>
<polygon points="530.7,118.6 524.63,115.53 528.99,112.02" fill="#454545"/>
<clipPath id="spbl"><rect x="234.4" y="122.4" width="61.7" height="58.4"/></clipPath>
<rect x="234.4" y="122.4" width="61.7" height="58.4" fill="#faf5f7"/>
<g clip-path="url(#spbl)">
<circle cx="234.4" cy="138.4" r="26" fill="url(#gLB)" opacity="1"/>
<circle cx="234.4" cy="138.4" r="16" fill="url(#gLB)" opacity="0.8"/>
<circle cx="286.4" cy="126.4" r="26" fill="url(#gLR)" opacity="1"/>
<circle cx="267.4" cy="135.4" r="11" fill="url(#gLR)" opacity="0.9"/>
<circle cx="280.4" cy="152.4" r="11" fill="url(#gLB)" opacity="0.9"/>
<circle cx="240.4" cy="186.4" r="28" fill="url(#gLR)" opacity="1"/>
<circle cx="280.4" cy="188.4" r="28" fill="url(#gLR)" opacity="1"/>
<circle cx="264.4" cy="184.4" r="14" fill="url(#gLR)" opacity="0.7"/>
<circle cx="296.4" cy="160.4" r="10" fill="url(#gLR)" opacity="0.5"/>
<g stroke="#9c9cac" stroke-width="0.55" fill="none" opacity="0.45">
<polygon points="200.4,142.4 215.4,116.4 230.4,142.4"/>
<polygon points="230.4,142.4 245.4,116.4 260.4,142.4"/>
<polygon points="260.4,142.4 275.4,116.4 290.4,142.4"/>
<polygon points="290.4,142.4 305.4,116.4 320.4,142.4"/>
<polygon points="320.4,142.4 335.4,116.4 350.4,142.4"/>
<polygon points="215.4,168.4 230.4,142.4 245.4,168.4"/>
<polygon points="245.4,168.4 260.4,142.4 275.4,168.4"/>
<polygon points="275.4,168.4 290.4,142.4 305.4,168.4"/>
<polygon points="305.4,168.4 320.4,142.4 335.4,168.4"/>
<polygon points="335.4,168.4 350.4,142.4 365.4,168.4"/>
<polygon points="200.4,194.4 215.4,168.4 230.4,194.4"/>
<polygon points="230.4,194.4 245.4,168.4 260.4,194.4"/>
<polygon points="260.4,194.4 275.4,168.4 290.4,194.4"/>
<polygon points="290.4,194.4 305.4,168.4 320.4,194.4"/>
<polygon points="320.4,194.4 335.4,168.4 350.4,194.4"/>
</g>
<circle cx="254.3" cy="139.3" r="14.5" fill="url(#gHR)" />
<circle cx="254.3" cy="139.3" r="10" fill="url(#gMR)" />
<circle cx="269.6" cy="161.3" r="14.5" fill="url(#gHB)" />
<circle cx="269.6" cy="161.3" r="10" fill="url(#gMB)" />
<path d="M253.41,129.14 A10.2,10.2 0 1 1 246.49,132.74" fill="none" stroke="#c89000" stroke-width="3.0" stroke-linecap="butt"/>
<path d="M253.52,130.38 A8.95,8.95 0 1 1 247.44,133.55" fill="none" stroke="#3a2c00" stroke-width="0.9"/>
<path d="M253.41,129.14 A10.2,10.2 0 1 1 246.49,132.74" fill="none" stroke="#ffe60a" stroke-width="2.2" stroke-linecap="butt"/>
<polygon points="249.1,130.32 253.11,125.75 253.71,132.53" fill="#ffe60a" stroke="#6a5000" stroke-width="0.5"/>
<path d="M270.49,171.46 A10.2,10.2 0 1 1 277.41,167.86" fill="none" stroke="#c89000" stroke-width="3.0" stroke-linecap="butt"/>
<path d="M270.38,170.22 A8.95,8.95 0 1 1 276.46,167.05" fill="none" stroke="#3a2c00" stroke-width="0.9"/>
<path d="M270.49,171.46 A10.2,10.2 0 1 1 277.41,167.86" fill="none" stroke="#ffe60a" stroke-width="2.2" stroke-linecap="butt"/>
<polygon points="273.97,170.71 280.02,170.04 274.81,165.67" fill="#ffe60a" stroke="#6a5000" stroke-width="0.5"/>
</g>
<rect x="234.4" y="122.4" width="61.7" height="58.4" fill="none" stroke="#a0a0a0" stroke-width="1.5"/>
<text x="277.6" y="140.6" font-size="10.6" fill="#7a1cf0" font-family='"Liberation Sans", sans-serif' font-weight="bold" font-style="italic" stroke="#7a1cf0" stroke-width="0.6">φ</text>
<polygon points="287.3,131.8 288.8,132 286.1,135.1 285.5,134.9" fill="#7a1cf0"/>
<text x="286.4" y="143" font-size="7.4" fill="#7a1cf0" font-family='"Liberation Serif", serif' font-weight="bold" stroke="#7a1cf0" stroke-width="0.3">1</text>
<clipPath id="spbr"><rect x="306.3" y="122.6" width="60.6" height="58.3"/></clipPath>
<rect x="306.3" y="122.6" width="60.6" height="58.3" fill="#faf5f7"/>
<g clip-path="url(#spbr)">
<circle cx="306.3" cy="122.6" r="28" fill="url(#gLB)" opacity="1"/>
<circle cx="308.3" cy="128.6" r="16" fill="url(#gLB)" opacity="0.8"/>
<circle cx="368.3" cy="124.6" r="26" fill="url(#gLR)" opacity="1"/>
<circle cx="306.3" cy="158.6" r="18" fill="url(#gLR)" opacity="1"/>
<circle cx="319.3" cy="152.6" r="10" fill="url(#gLR)" opacity="0.9"/>
<circle cx="332.3" cy="136.6" r="9" fill="url(#gLB)" opacity="0.7"/>
<circle cx="310.3" cy="186.6" r="28" fill="url(#gLB)" opacity="1"/>
<circle cx="342.3" cy="186.6" r="20" fill="url(#gLB)" opacity="1"/>
<circle cx="314.3" cy="178.6" r="12" fill="url(#gLB)" opacity="0.8"/>
<circle cx="368.3" cy="170.6" r="14" fill="url(#gLR)" opacity="0.55"/>
<g stroke="#9c9cac" stroke-width="0.55" fill="none" opacity="0.45">
<polygon points="272.3,142.6 287.3,116.6 302.3,142.6"/>
<polygon points="302.3,142.6 317.3,116.6 332.3,142.6"/>
<polygon points="332.3,142.6 347.3,116.6 362.3,142.6"/>
<polygon points="362.3,142.6 377.3,116.6 392.3,142.6"/>
<polygon points="392.3,142.6 407.3,116.6 422.3,142.6"/>
<polygon points="287.3,168.6 302.3,142.6 317.3,168.6"/>
<polygon points="317.3,168.6 332.3,142.6 347.3,168.6"/>
<polygon points="347.3,168.6 362.3,142.6 377.3,168.6"/>
<polygon points="377.3,168.6 392.3,142.6 407.3,168.6"/>
<polygon points="407.3,168.6 422.3,142.6 437.3,168.6"/>
<polygon points="272.3,194.6 287.3,168.6 302.3,194.6"/>
<polygon points="302.3,194.6 317.3,168.6 332.3,194.6"/>
<polygon points="332.3,194.6 347.3,168.6 362.3,194.6"/>
<polygon points="362.3,194.6 377.3,168.6 392.3,194.6"/>
<polygon points="392.3,194.6 407.3,168.6 422.3,194.6"/>
</g>
<circle cx="343.9" cy="139.6" r="14.5" fill="url(#gHB)" />
<circle cx="343.9" cy="139.6" r="10" fill="url(#gMB)" />
<circle cx="330.6" cy="162.6" r="14.5" fill="url(#gHR)" />
<circle cx="330.6" cy="162.6" r="10" fill="url(#gMR)" />
<path d="M347.39,130.02 A10.2,10.2 0 1 1 339.11,130.59" fill="none" stroke="#c89000" stroke-width="3.0" stroke-linecap="butt"/>
<path d="M346.96,131.19 A8.95,8.95 0 1 1 339.7,131.7" fill="none" stroke="#3a2c00" stroke-width="0.9"/>
<path d="M347.39,130.02 A10.2,10.2 0 1 1 339.11,130.59" fill="none" stroke="#ffe60a" stroke-width="2.2" stroke-linecap="butt"/>
<polygon points="343.37,129.23 337.52,127.59 340.71,133.6" fill="#ffe60a" stroke="#6a5000" stroke-width="0.5"/>
<path d="M321.77,167.7 A10.2,10.2 0 1 1 326.78,172.06" fill="none" stroke="#c89000" stroke-width="3.0" stroke-linecap="butt"/>
<path d="M322.85,167.07 A8.95,8.95 0 1 1 327.25,170.9" fill="none" stroke="#3a2c00" stroke-width="0.9"/>
<path d="M321.77,167.7 A10.2,10.2 0 1 1 326.78,172.06" fill="none" stroke="#ffe60a" stroke-width="2.2" stroke-linecap="butt"/>
<polygon points="324.66,171.11 318.82,169.4 324.71,166" fill="#ffe60a" stroke="#6a5000" stroke-width="0.5"/>
</g>
<rect x="306.3" y="122.6" width="60.6" height="58.3" fill="none" stroke="#a0a0a0" stroke-width="1.5"/>
<text x="312.8" y="140.5" font-size="10.6" fill="#7a1cf0" font-family='"Liberation Sans", sans-serif' font-weight="bold" font-style="italic" stroke="#7a1cf0" stroke-width="0.6">φ</text>
<text x="321.1" y="142.6" font-size="8.6" fill="#7a1cf0" font-family='"Liberation Serif", serif' font-weight="bold" stroke="#7a1cf0" stroke-width="0.3">1</text>
<clipPath id="spcl"><rect x="399.8" y="121.8" width="63.4" height="58.1"/></clipPath>
<rect x="399.8" y="121.8" width="63.4" height="58.1" fill="#faf5f7"/>
<g clip-path="url(#spcl)">
<circle cx="399.8" cy="135.8" r="26" fill="url(#gLR)" opacity="1"/>
<circle cx="399.8" cy="135.8" r="16" fill="url(#gLR)" opacity="0.7"/>
<circle cx="453.8" cy="123.8" r="24" fill="url(#gLB)" opacity="0.85"/>
<circle cx="461.8" cy="153.8" r="14" fill="url(#gLR)" opacity="0.9"/>
<circle cx="447.8" cy="151.8" r="10" fill="url(#gLR)" opacity="0.8"/>
<circle cx="429.8" cy="131.8" r="9" fill="url(#gLB)" opacity="0.6"/>
<circle cx="405.8" cy="187.8" r="28" fill="url(#gLB)" opacity="1"/>
<circle cx="445.8" cy="187.8" r="28" fill="url(#gLB)" opacity="1"/>
<circle cx="429.8" cy="185.8" r="20" fill="url(#gLB)" opacity="1"/>
<g stroke="#9c9cac" stroke-width="0.55" fill="none" opacity="0.45">
<polygon points="365.8,141.8 380.8,115.8 395.8,141.8"/>
<polygon points="395.8,141.8 410.8,115.8 425.8,141.8"/>
<polygon points="425.8,141.8 440.8,115.8 455.8,141.8"/>
<polygon points="455.8,141.8 470.8,115.8 485.8,141.8"/>
<polygon points="485.8,141.8 500.8,115.8 515.8,141.8"/>
<polygon points="380.8,167.8 395.8,141.8 410.8,167.8"/>
<polygon points="410.8,167.8 425.8,141.8 440.8,167.8"/>
<polygon points="440.8,167.8 455.8,141.8 470.8,167.8"/>
<polygon points="470.8,167.8 485.8,141.8 500.8,167.8"/>
<polygon points="500.8,167.8 515.8,141.8 530.8,167.8"/>
<polygon points="365.8,193.8 380.8,167.8 395.8,193.8"/>
<polygon points="395.8,193.8 410.8,167.8 425.8,193.8"/>
<polygon points="425.8,193.8 440.8,167.8 455.8,193.8"/>
<polygon points="455.8,193.8 470.8,167.8 485.8,193.8"/>
<polygon points="485.8,193.8 500.8,167.8 515.8,193.8"/>
</g>
<circle cx="423.1" cy="138.5" r="14.5" fill="url(#gHB)" />
<circle cx="423.1" cy="138.5" r="10" fill="url(#gMB)" />
<circle cx="437" cy="160.5" r="14.5" fill="url(#gHR)" />
<circle cx="437" cy="160.5" r="10" fill="url(#gMR)" />
<path d="M430.31,145.71 A10.2,10.2 0 1 1 433.26,139.39" fill="none" stroke="#c89000" stroke-width="3.0" stroke-linecap="butt"/>
<path d="M429.43,144.83 A8.95,8.95 0 1 1 432.02,139.28" fill="none" stroke="#3a2c00" stroke-width="0.9"/>
<path d="M430.31,145.71 A10.2,10.2 0 1 1 433.26,139.39" fill="none" stroke="#ffe60a" stroke-width="2.2" stroke-linecap="butt"/>
<polygon points="432.08,143.7 436.65,139.69 429.87,139.09" fill="#ffe60a" stroke="#6a5000" stroke-width="0.5"/>
<path d="M444.58,153.67 A10.2,10.2 0 1 1 438.77,150.45" fill="none" stroke="#c89000" stroke-width="3.0" stroke-linecap="butt"/>
<path d="M443.65,154.51 A8.95,8.95 0 1 1 438.55,151.69" fill="none" stroke="#3a2c00" stroke-width="0.9"/>
<path d="M444.58,153.67 A10.2,10.2 0 1 1 438.77,150.45" fill="none" stroke="#ffe60a" stroke-width="2.2" stroke-linecap="butt"/>
<polygon points="441.04,150.94 447.11,151.4 442.05,155.95" fill="#ffe60a" stroke="#6a5000" stroke-width="0.5"/>
</g>
<rect x="399.8" y="121.8" width="63.4" height="58.1" fill="none" stroke="#a0a0a0" stroke-width="1.5"/>
<rect x="443.3" y="137.7" width="2.6" height="1.2" fill="#7a1cf0"/>
<text x="446.6" y="140.9" font-size="10.6" fill="#7a1cf0" font-family='"Liberation Sans", sans-serif' font-weight="bold" font-style="italic" stroke="#7a1cf0" stroke-width="0.6">φ</text>
<polygon points="456.7,132.1 458.2,132.3 455.5,135.4 454.9,135.2" fill="#7a1cf0"/>
<text x="455.7" y="143.5" font-size="7.4" fill="#7a1cf0" font-family='"Liberation Serif", serif' font-weight="bold" stroke="#7a1cf0" stroke-width="0.3">1</text>
<clipPath id="spcr"><rect x="473.8" y="121.8" width="60.4" height="57.3"/></clipPath>
<rect x="473.8" y="121.8" width="60.4" height="57.3" fill="#faf5f7"/>
<g clip-path="url(#spcr)">
<circle cx="473.8" cy="121.8" r="28" fill="url(#gLB)" opacity="1"/>
<circle cx="475.8" cy="127.8" r="16" fill="url(#gLB)" opacity="0.8"/>
<circle cx="535.8" cy="123.8" r="26" fill="url(#gLR)" opacity="1"/>
<circle cx="473.8" cy="157.8" r="18" fill="url(#gLR)" opacity="1"/>
<circle cx="486.8" cy="151.8" r="10" fill="url(#gLR)" opacity="0.9"/>
<circle cx="499.8" cy="135.8" r="9" fill="url(#gLB)" opacity="0.7"/>
<circle cx="477.8" cy="185.8" r="28" fill="url(#gLB)" opacity="1"/>
<circle cx="509.8" cy="185.8" r="20" fill="url(#gLB)" opacity="1"/>
<circle cx="481.8" cy="177.8" r="12" fill="url(#gLB)" opacity="0.8"/>
<circle cx="535.8" cy="169.8" r="14" fill="url(#gLR)" opacity="0.55"/>
<g stroke="#9c9cac" stroke-width="0.55" fill="none" opacity="0.45">
<polygon points="439.8,141.8 454.8,115.8 469.8,141.8"/>
<polygon points="469.8,141.8 484.8,115.8 499.8,141.8"/>
<polygon points="499.8,141.8 514.8,115.8 529.8,141.8"/>
<polygon points="529.8,141.8 544.8,115.8 559.8,141.8"/>
<polygon points="559.8,141.8 574.8,115.8 589.8,141.8"/>
<polygon points="454.8,167.8 469.8,141.8 484.8,167.8"/>
<polygon points="484.8,167.8 499.8,141.8 514.8,167.8"/>
<polygon points="514.8,167.8 529.8,141.8 544.8,167.8"/>
<polygon points="544.8,167.8 559.8,141.8 574.8,167.8"/>
<polygon points="574.8,167.8 589.8,141.8 604.8,167.8"/>
<polygon points="439.8,193.8 454.8,167.8 469.8,193.8"/>
<polygon points="469.8,193.8 484.8,167.8 499.8,193.8"/>
<polygon points="499.8,193.8 514.8,167.8 529.8,193.8"/>
<polygon points="529.8,193.8 544.8,167.8 559.8,193.8"/>
<polygon points="559.8,193.8 574.8,167.8 589.8,193.8"/>
</g>
<circle cx="510.9" cy="138.1" r="14.5" fill="url(#gHB)" />
<circle cx="510.9" cy="138.1" r="10" fill="url(#gMB)" />
<circle cx="496.6" cy="160.6" r="14.5" fill="url(#gHR)" />
<circle cx="496.6" cy="160.6" r="10" fill="url(#gMR)" />
<path d="M513.71,128.3 A10.2,10.2 0 1 1 505.49,129.45" fill="none" stroke="#c89000" stroke-width="3.0" stroke-linecap="butt"/>
<path d="M513.37,129.5 A8.95,8.95 0 1 1 506.16,130.51" fill="none" stroke="#3a2c00" stroke-width="0.9"/>
<path d="M513.71,128.3 A10.2,10.2 0 1 1 505.49,129.45" fill="none" stroke="#ffe60a" stroke-width="2.2" stroke-linecap="butt"/>
<polygon points="509.65,127.8 503.69,126.57 507.3,132.33" fill="#ffe60a" stroke="#6a5000" stroke-width="0.5"/>
<path d="M487.77,165.7 A10.2,10.2 0 1 1 492.78,170.06" fill="none" stroke="#c89000" stroke-width="3.0" stroke-linecap="butt"/>
<path d="M488.85,165.07 A8.95,8.95 0 1 1 493.25,168.9" fill="none" stroke="#3a2c00" stroke-width="0.9"/>
<path d="M487.77,165.7 A10.2,10.2 0 1 1 492.78,170.06" fill="none" stroke="#ffe60a" stroke-width="2.2" stroke-linecap="butt"/>
<polygon points="490.66,169.11 484.82,167.4 490.71,164" fill="#ffe60a" stroke="#6a5000" stroke-width="0.5"/>
</g>
<rect x="473.8" y="121.8" width="60.4" height="57.3" fill="none" stroke="#a0a0a0" stroke-width="1.5"/>
<text x="478.4" y="140.5" font-size="10.6" fill="#7a1cf0" font-family='"Liberation Sans", sans-serif' font-weight="bold" font-style="italic" stroke="#7a1cf0" stroke-width="0.6">φ</text>
<text x="486.8" y="142.6" font-size="8.6" fill="#7a1cf0" font-family='"Liberation Serif", serif' font-weight="bold" stroke="#7a1cf0" stroke-width="0.3">1</text>
<rect x="324.5" y="191.5" width="96.9" height="6.2" fill="url(#cbHz)"/>
<rect x="317.1" y="193.7" width="3.5" height="1.5" fill="#1a1a1a"/>
<rect x="427.0" y="193.9" width="6.0" height="1.4" fill="#1a1a1a"/>
<rect x="429.3" y="191.6" width="1.4" height="6.0" fill="#1a1a1a"/>
<text x="368.4" y="208.3" font-size="10.6" fill="#222" stroke="#222" stroke-width="0.15" font-family='"Liberation Serif", serif'>H<tspan font-size="9.6" dy="0.9">z</tspan></text>
<text x="5.8" y="233.8" font-size="18" fill="#111" text-anchor="start" font-family='"Liberation Sans", sans-serif' font-weight="normal" font-style="normal" stroke="#111" stroke-width="0.18" >(d)</text>
<rect x="24.2" y="244.8" width="117.1" height="75.2" fill="#000" stroke="#9a9a9a" stroke-width="1.5"/>
<clipPath id="hb244"><rect x="25" y="245.6" width="115.5" height="73.6"/></clipPath>
<g clip-path="url(#hb244)">
<ellipse cx="79.95" cy="268.7" rx="2.0" ry="1.8" fill="rgb(37, 0, 0)"/>
<ellipse cx="85.25" cy="268.7" rx="2.0" ry="1.8" fill="rgb(37, 0, 0)"/>
<ellipse cx="72" cy="273.1" rx="2.0" ry="1.8" fill="rgb(40, 0, 0)"/>
<ellipse cx="77.3" cy="273.1" rx="2.0" ry="1.8" fill="rgb(53, 0, 0)"/>
<ellipse cx="82.6" cy="273.1" rx="2.0" ry="1.8" fill="rgb(59, 0, 0)"/>
<ellipse cx="87.9" cy="273.1" rx="2.0" ry="1.8" fill="rgb(53, 0, 0)"/>
<ellipse cx="93.2" cy="273.1" rx="2.0" ry="1.8" fill="rgb(40, 0, 0)"/>
<ellipse cx="69.35" cy="277.5" rx="2.0" ry="1.8" fill="rgb(46, 0, 0)"/>
<ellipse cx="74.65" cy="277.5" rx="2.0" ry="1.8" fill="rgb(69, 0, 0)"/>
<ellipse cx="79.95" cy="277.5" rx="2.0" ry="1.8" fill="rgb(88, 0, 0)"/>
<ellipse cx="85.25" cy="277.5" rx="2.0" ry="1.8" fill="rgb(88, 0, 0)"/>
<ellipse cx="90.55" cy="277.5" rx="2.0" ry="1.8" fill="rgb(69, 0, 0)"/>
<ellipse cx="95.85" cy="277.5" rx="2.0" ry="1.8" fill="rgb(46, 0, 0)"/>
<ellipse cx="66.7" cy="281.9" rx="2.0" ry="1.8" fill="rgb(47, 0, 0)"/>
<ellipse cx="72" cy="281.9" rx="2.0" ry="1.8" fill="rgb(79, 0, 0)"/>
<ellipse cx="77.3" cy="281.9" rx="2.0" ry="1.8" fill="rgb(119, 3, 0)"/>
<ellipse cx="82.6" cy="281.9" rx="2.0" ry="1.8" fill="rgb(138, 6, 0)"/>
<ellipse cx="87.9" cy="281.9" rx="2.0" ry="1.8" fill="rgb(119, 3, 0)"/>
<ellipse cx="93.2" cy="281.9" rx="2.0" ry="1.8" fill="rgb(79, 0, 0)"/>
<ellipse cx="98.5" cy="281.9" rx="2.0" ry="1.8" fill="rgb(47, 0, 0)"/>
<ellipse cx="64.05" cy="286.3" rx="2.0" ry="1.8" fill="rgb(43, 0, 0)"/>
<ellipse cx="69.35" cy="286.3" rx="2.0" ry="1.8" fill="rgb(79, 0, 0)"/>
<ellipse cx="74.65" cy="286.3" rx="2.0" ry="1.8" fill="rgb(138, 6, 0)"/>
<ellipse cx="79.95" cy="286.3" rx="2.0" ry="1.8" fill="rgb(198, 16, 0)"/>
<ellipse cx="85.25" cy="286.3" rx="2.0" ry="1.8" fill="rgb(198, 16, 0)"/>
<ellipse cx="90.55" cy="286.3" rx="2.0" ry="1.8" fill="rgb(138, 6, 0)"/>
<ellipse cx="95.85" cy="286.3" rx="2.0" ry="1.8" fill="rgb(79, 0, 0)"/>
<ellipse cx="101.15" cy="286.3" rx="2.0" ry="1.8" fill="rgb(43, 0, 0)"/>
<ellipse cx="61.4" cy="290.7" rx="2.0" ry="1.8" fill="rgb(35, 0, 0)"/>
<ellipse cx="66.7" cy="290.7" rx="2.0" ry="1.8" fill="rgb(69, 0, 0)"/>
<ellipse cx="72" cy="290.7" rx="2.0" ry="1.8" fill="rgb(134, 5, 0)"/>
<ellipse cx="77.3" cy="290.7" rx="2.0" ry="1.8" fill="rgb(227, 42, 0)"/>
<ellipse cx="82.6" cy="290.7" rx="2.0" ry="1.8" fill="rgb(253, 114, 0)"/>
<ellipse cx="87.9" cy="290.7" rx="2.0" ry="1.8" fill="rgb(227, 42, 0)"/>
<ellipse cx="93.2" cy="290.7" rx="2.0" ry="1.8" fill="rgb(134, 5, 0)"/>
<ellipse cx="98.5" cy="290.7" rx="2.0" ry="1.8" fill="rgb(69, 0, 0)"/>
<ellipse cx="103.8" cy="290.7" rx="2.0" ry="1.8" fill="rgb(35, 0, 0)"/>
<ellipse cx="64.05" cy="295.1" rx="2.0" ry="1.8" fill="rgb(53, 0, 0)"/>
<ellipse cx="69.35" cy="295.1" rx="2.0" ry="1.8" fill="rgb(109, 1, 0)"/>
<ellipse cx="74.65" cy="295.1" rx="2.0" ry="1.8" fill="rgb(224, 33, 0)"/>
<ellipse cx="79.95" cy="295.1" rx="2.0" ry="1.8" fill="rgb(255, 232, 40)"/>
<ellipse cx="85.25" cy="295.1" rx="2.0" ry="1.8" fill="rgb(255, 232, 40)"/>
<ellipse cx="90.55" cy="295.1" rx="2.0" ry="1.8" fill="rgb(224, 33, 0)"/>
<ellipse cx="95.85" cy="295.1" rx="2.0" ry="1.8" fill="rgb(109, 1, 0)"/>
<ellipse cx="101.15" cy="295.1" rx="2.0" ry="1.8" fill="rgb(53, 0, 0)"/>
<ellipse cx="45.5" cy="299.5" rx="2.0" ry="1.8" fill="rgb(81, 0, 0)"/>
<ellipse cx="50.8" cy="299.5" rx="2.0" ry="1.8" fill="rgb(142, 7, 0)"/>
<ellipse cx="61.4" cy="299.5" rx="2.0" ry="1.8" fill="rgb(36, 0, 0)"/>
<ellipse cx="66.7" cy="299.5" rx="2.0" ry="1.8" fill="rgb(75, 0, 0)"/>
<ellipse cx="72" cy="299.5" rx="2.0" ry="1.8" fill="rgb(165, 10, 0)"/>
<ellipse cx="77.3" cy="299.5" rx="2.0" ry="1.8" fill="rgb(255, 192, 25)"/>
<ellipse cx="82.6" cy="299.5" rx="2.0" ry="1.8" fill="rgb(255, 232, 40)"/>
<ellipse cx="87.9" cy="299.5" rx="2.0" ry="1.8" fill="rgb(255, 192, 25)"/>
<ellipse cx="93.2" cy="299.5" rx="2.0" ry="1.8" fill="rgb(165, 10, 0)"/>
<ellipse cx="98.5" cy="299.5" rx="2.0" ry="1.8" fill="rgb(75, 0, 0)"/>
<ellipse cx="103.8" cy="299.5" rx="2.0" ry="1.8" fill="rgb(36, 0, 0)"/>
<ellipse cx="114.4" cy="299.5" rx="2.0" ry="1.8" fill="rgb(79, 0, 0)"/>
<ellipse cx="119.7" cy="299.5" rx="2.0" ry="1.8" fill="rgb(147, 7, 0)"/>
<ellipse cx="64.05" cy="303.9" rx="2.0" ry="1.8" fill="rgb(46, 0, 0)"/>
<ellipse cx="69.35" cy="303.9" rx="2.0" ry="1.8" fill="rgb(98, 0, 0)"/>
<ellipse cx="74.65" cy="303.9" rx="2.0" ry="1.8" fill="rgb(220, 20, 0)"/>
<ellipse cx="79.95" cy="303.9" rx="2.0" ry="1.8" fill="rgb(255, 232, 40)"/>
<ellipse cx="85.25" cy="303.9" rx="2.0" ry="1.8" fill="rgb(255, 232, 40)"/>
<ellipse cx="90.55" cy="303.9" rx="2.0" ry="1.8" fill="rgb(220, 20, 0)"/>
<ellipse cx="95.85" cy="303.9" rx="2.0" ry="1.8" fill="rgb(98, 0, 0)"/>
<ellipse cx="101.15" cy="303.9" rx="2.0" ry="1.8" fill="rgb(46, 0, 0)"/>
<ellipse cx="66.7" cy="308.3" rx="2.0" ry="1.8" fill="rgb(53, 0, 0)"/>
<ellipse cx="72" cy="308.3" rx="2.0" ry="1.8" fill="rgb(109, 1, 0)"/>
<ellipse cx="77.3" cy="308.3" rx="2.0" ry="1.8" fill="rgb(208, 18, 0)"/>
<ellipse cx="82.6" cy="308.3" rx="2.0" ry="1.8" fill="rgb(240, 77, 0)"/>
<ellipse cx="87.9" cy="308.3" rx="2.0" ry="1.8" fill="rgb(208, 18, 0)"/>
<ellipse cx="93.2" cy="308.3" rx="2.0" ry="1.8" fill="rgb(109, 1, 0)"/>
<ellipse cx="98.5" cy="308.3" rx="2.0" ry="1.8" fill="rgb(53, 0, 0)"/>
<ellipse cx="69.35" cy="312.7" rx="2.0" ry="1.8" fill="rgb(51, 0, 0)"/>
<ellipse cx="74.65" cy="312.7" rx="2.0" ry="1.8" fill="rgb(95, 0, 0)"/>
<ellipse cx="79.95" cy="312.7" rx="2.0" ry="1.8" fill="rgb(141, 6, 0)"/>
<ellipse cx="85.25" cy="312.7" rx="2.0" ry="1.8" fill="rgb(141, 6, 0)"/>
<ellipse cx="90.55" cy="312.7" rx="2.0" ry="1.8" fill="rgb(95, 0, 0)"/>
<ellipse cx="95.85" cy="312.7" rx="2.0" ry="1.8" fill="rgb(51, 0, 0)"/>
<ellipse cx="72" cy="317.1" rx="2.0" ry="1.8" fill="rgb(41, 0, 0)"/>
<ellipse cx="77.3" cy="317.1" rx="2.0" ry="1.8" fill="rgb(65, 0, 0)"/>
<ellipse cx="82.6" cy="317.1" rx="2.0" ry="1.8" fill="rgb(77, 0, 0)"/>
<ellipse cx="87.9" cy="317.1" rx="2.0" ry="1.8" fill="rgb(65, 0, 0)"/>
<ellipse cx="93.2" cy="317.1" rx="2.0" ry="1.8" fill="rgb(41, 0, 0)"/>
<ellipse cx="79.95" cy="321.5" rx="2.0" ry="1.8" fill="rgb(36, 0, 0)"/>
<ellipse cx="85.25" cy="321.5" rx="2.0" ry="1.8" fill="rgb(36, 0, 0)"/>
</g>
<polyline points="48.5,299.6 67.2,264.2 98.8,264.2 117.5,299.6" fill="none" stroke="#c8c8c8" stroke-width="0.9" stroke-dasharray="2.2 1.6"/>
<line x1="48.5" y1="299.6" x2="117.5" y2="299.6" stroke="#c8c8c8" stroke-width="0.9" stroke-dasharray="2.2 1.6"/>
<polygon points="82.6,292.5 84.36,297.07 89.26,297.34 85.45,300.43 86.71,305.16 82.6,302.5 78.49,305.16 79.75,300.43 75.94,297.34 80.84,297.07" fill="#ff1a1a" stroke="#fff" stroke-width="1.4" stroke-linejoin="miter"/>
<text x="33.2" y="257.5" font-size="8.8" fill="#f6f6f6" stroke="#f6f6f6" stroke-width="0.2" font-family='"Liberation Sans", sans-serif' textLength="98.5" lengthAdjust="spacingAndGlyphs">f=193.185 THz with RCP</text>
<text x="36.6" y="303.5" font-size="10.6" fill="#1ea2e6" text-anchor="start" font-family='"Liberation Sans", sans-serif' font-weight="normal" font-style="normal" stroke="#1ea2e6" stroke-width="0.18" >A</text>
<text x="123.4" y="303.5" font-size="10.6" fill="#ee4f8c" text-anchor="start" font-family='"Liberation Sans", sans-serif' font-weight="normal" font-style="normal" stroke="#ee4f8c" stroke-width="0.18" >B</text>
<rect x="24.2" y="324.3" width="117.1" height="75.2" fill="#000" stroke="#9a9a9a" stroke-width="1.5"/>
<clipPath id="hb324"><rect x="25" y="325.1" width="115.5" height="73.6"/></clipPath>
<g clip-path="url(#hb324)">
<ellipse cx="79.55" cy="348.1" rx="2.0" ry="1.8" fill="rgb(37, 0, 0)"/>
<ellipse cx="84.85" cy="348.1" rx="2.0" ry="1.8" fill="rgb(37, 0, 0)"/>
<ellipse cx="71.6" cy="352.5" rx="2.0" ry="1.8" fill="rgb(40, 0, 0)"/>
<ellipse cx="76.9" cy="352.5" rx="2.0" ry="1.8" fill="rgb(53, 0, 0)"/>
<ellipse cx="82.2" cy="352.5" rx="2.0" ry="1.8" fill="rgb(59, 0, 0)"/>
<ellipse cx="87.5" cy="352.5" rx="2.0" ry="1.8" fill="rgb(53, 0, 0)"/>
<ellipse cx="92.8" cy="352.5" rx="2.0" ry="1.8" fill="rgb(40, 0, 0)"/>
<ellipse cx="68.95" cy="356.9" rx="2.0" ry="1.8" fill="rgb(46, 0, 0)"/>
<ellipse cx="74.25" cy="356.9" rx="2.0" ry="1.8" fill="rgb(69, 0, 0)"/>
<ellipse cx="79.55" cy="356.9" rx="2.0" ry="1.8" fill="rgb(88, 0, 0)"/>
<ellipse cx="84.85" cy="356.9" rx="2.0" ry="1.8" fill="rgb(88, 0, 0)"/>
<ellipse cx="90.15" cy="356.9" rx="2.0" ry="1.8" fill="rgb(69, 0, 0)"/>
<ellipse cx="95.45" cy="356.9" rx="2.0" ry="1.8" fill="rgb(46, 0, 0)"/>
<ellipse cx="66.3" cy="361.3" rx="2.0" ry="1.8" fill="rgb(47, 0, 0)"/>
<ellipse cx="71.6" cy="361.3" rx="2.0" ry="1.8" fill="rgb(79, 0, 0)"/>
<ellipse cx="76.9" cy="361.3" rx="2.0" ry="1.8" fill="rgb(119, 3, 0)"/>
<ellipse cx="82.2" cy="361.3" rx="2.0" ry="1.8" fill="rgb(138, 6, 0)"/>
<ellipse cx="87.5" cy="361.3" rx="2.0" ry="1.8" fill="rgb(119, 3, 0)"/>
<ellipse cx="92.8" cy="361.3" rx="2.0" ry="1.8" fill="rgb(79, 0, 0)"/>
<ellipse cx="98.1" cy="361.3" rx="2.0" ry="1.8" fill="rgb(47, 0, 0)"/>
<ellipse cx="63.65" cy="365.7" rx="2.0" ry="1.8" fill="rgb(43, 0, 0)"/>
<ellipse cx="68.95" cy="365.7" rx="2.0" ry="1.8" fill="rgb(79, 0, 0)"/>
<ellipse cx="74.25" cy="365.7" rx="2.0" ry="1.8" fill="rgb(138, 6, 0)"/>
<ellipse cx="79.55" cy="365.7" rx="2.0" ry="1.8" fill="rgb(198, 16, 0)"/>
<ellipse cx="84.85" cy="365.7" rx="2.0" ry="1.8" fill="rgb(198, 16, 0)"/>
<ellipse cx="90.15" cy="365.7" rx="2.0" ry="1.8" fill="rgb(138, 6, 0)"/>
<ellipse cx="95.45" cy="365.7" rx="2.0" ry="1.8" fill="rgb(79, 0, 0)"/>
<ellipse cx="100.75" cy="365.7" rx="2.0" ry="1.8" fill="rgb(43, 0, 0)"/>
<ellipse cx="61" cy="370.1" rx="2.0" ry="1.8" fill="rgb(35, 0, 0)"/>
<ellipse cx="66.3" cy="370.1" rx="2.0" ry="1.8" fill="rgb(69, 0, 0)"/>
<ellipse cx="71.6" cy="370.1" rx="2.0" ry="1.8" fill="rgb(134, 5, 0)"/>
<ellipse cx="76.9" cy="370.1" rx="2.0" ry="1.8" fill="rgb(227, 42, 0)"/>
<ellipse cx="82.2" cy="370.1" rx="2.0" ry="1.8" fill="rgb(253, 114, 0)"/>
<ellipse cx="87.5" cy="370.1" rx="2.0" ry="1.8" fill="rgb(227, 42, 0)"/>
<ellipse cx="92.8" cy="370.1" rx="2.0" ry="1.8" fill="rgb(134, 5, 0)"/>
<ellipse cx="98.1" cy="370.1" rx="2.0" ry="1.8" fill="rgb(69, 0, 0)"/>
<ellipse cx="103.4" cy="370.1" rx="2.0" ry="1.8" fill="rgb(35, 0, 0)"/>
<ellipse cx="63.65" cy="374.5" rx="2.0" ry="1.8" fill="rgb(53, 0, 0)"/>
<ellipse cx="68.95" cy="374.5" rx="2.0" ry="1.8" fill="rgb(109, 1, 0)"/>
<ellipse cx="74.25" cy="374.5" rx="2.0" ry="1.8" fill="rgb(224, 33, 0)"/>
<ellipse cx="79.55" cy="374.5" rx="2.0" ry="1.8" fill="rgb(255, 232, 40)"/>
<ellipse cx="84.85" cy="374.5" rx="2.0" ry="1.8" fill="rgb(255, 232, 40)"/>
<ellipse cx="90.15" cy="374.5" rx="2.0" ry="1.8" fill="rgb(224, 33, 0)"/>
<ellipse cx="95.45" cy="374.5" rx="2.0" ry="1.8" fill="rgb(109, 1, 0)"/>
<ellipse cx="100.75" cy="374.5" rx="2.0" ry="1.8" fill="rgb(53, 0, 0)"/>
<ellipse cx="50.4" cy="378.9" rx="2.0" ry="1.8" fill="rgb(238, 73, 0)"/>
<ellipse cx="61" cy="378.9" rx="2.0" ry="1.8" fill="rgb(36, 0, 0)"/>
<ellipse cx="66.3" cy="378.9" rx="2.0" ry="1.8" fill="rgb(75, 0, 0)"/>
<ellipse cx="71.6" cy="378.9" rx="2.0" ry="1.8" fill="rgb(165, 10, 0)"/>
<ellipse cx="76.9" cy="378.9" rx="2.0" ry="1.8" fill="rgb(255, 192, 25)"/>
<ellipse cx="82.2" cy="378.9" rx="2.0" ry="1.8" fill="rgb(255, 232, 40)"/>
<ellipse cx="87.5" cy="378.9" rx="2.0" ry="1.8" fill="rgb(255, 192, 25)"/>
<ellipse cx="92.8" cy="378.9" rx="2.0" ry="1.8" fill="rgb(165, 10, 0)"/>
<ellipse cx="98.1" cy="378.9" rx="2.0" ry="1.8" fill="rgb(75, 0, 0)"/>
<ellipse cx="103.4" cy="378.9" rx="2.0" ry="1.8" fill="rgb(36, 0, 0)"/>
<ellipse cx="114" cy="378.9" rx="2.0" ry="1.8" fill="rgb(217, 19, 0)"/>
<ellipse cx="119.3" cy="378.9" rx="2.0" ry="1.8" fill="rgb(38, 0, 0)"/>
<ellipse cx="63.65" cy="383.3" rx="2.0" ry="1.8" fill="rgb(46, 0, 0)"/>
<ellipse cx="68.95" cy="383.3" rx="2.0" ry="1.8" fill="rgb(98, 0, 0)"/>
<ellipse cx="74.25" cy="383.3" rx="2.0" ry="1.8" fill="rgb(220, 20, 0)"/>
<ellipse cx="79.55" cy="383.3" rx="2.0" ry="1.8" fill="rgb(255, 232, 40)"/>
<ellipse cx="84.85" cy="383.3" rx="2.0" ry="1.8" fill="rgb(255, 232, 40)"/>
<ellipse cx="90.15" cy="383.3" rx="2.0" ry="1.8" fill="rgb(220, 20, 0)"/>
<ellipse cx="95.45" cy="383.3" rx="2.0" ry="1.8" fill="rgb(98, 0, 0)"/>
<ellipse cx="100.75" cy="383.3" rx="2.0" ry="1.8" fill="rgb(46, 0, 0)"/>
<ellipse cx="66.3" cy="387.7" rx="2.0" ry="1.8" fill="rgb(53, 0, 0)"/>
<ellipse cx="71.6" cy="387.7" rx="2.0" ry="1.8" fill="rgb(109, 1, 0)"/>
<ellipse cx="76.9" cy="387.7" rx="2.0" ry="1.8" fill="rgb(208, 18, 0)"/>
<ellipse cx="82.2" cy="387.7" rx="2.0" ry="1.8" fill="rgb(240, 77, 0)"/>
<ellipse cx="87.5" cy="387.7" rx="2.0" ry="1.8" fill="rgb(208, 18, 0)"/>
<ellipse cx="92.8" cy="387.7" rx="2.0" ry="1.8" fill="rgb(109, 1, 0)"/>
<ellipse cx="98.1" cy="387.7" rx="2.0" ry="1.8" fill="rgb(53, 0, 0)"/>
<ellipse cx="68.95" cy="392.1" rx="2.0" ry="1.8" fill="rgb(51, 0, 0)"/>
<ellipse cx="74.25" cy="392.1" rx="2.0" ry="1.8" fill="rgb(95, 0, 0)"/>
<ellipse cx="79.55" cy="392.1" rx="2.0" ry="1.8" fill="rgb(141, 6, 0)"/>
<ellipse cx="84.85" cy="392.1" rx="2.0" ry="1.8" fill="rgb(141, 6, 0)"/>
<ellipse cx="90.15" cy="392.1" rx="2.0" ry="1.8" fill="rgb(95, 0, 0)"/>
<ellipse cx="95.45" cy="392.1" rx="2.0" ry="1.8" fill="rgb(51, 0, 0)"/>
<ellipse cx="71.6" cy="396.5" rx="2.0" ry="1.8" fill="rgb(41, 0, 0)"/>
<ellipse cx="76.9" cy="396.5" rx="2.0" ry="1.8" fill="rgb(65, 0, 0)"/>
<ellipse cx="82.2" cy="396.5" rx="2.0" ry="1.8" fill="rgb(77, 0, 0)"/>
<ellipse cx="87.5" cy="396.5" rx="2.0" ry="1.8" fill="rgb(65, 0, 0)"/>
<ellipse cx="92.8" cy="396.5" rx="2.0" ry="1.8" fill="rgb(41, 0, 0)"/>
<ellipse cx="79.55" cy="400.9" rx="2.0" ry="1.8" fill="rgb(36, 0, 0)"/>
<ellipse cx="84.85" cy="400.9" rx="2.0" ry="1.8" fill="rgb(36, 0, 0)"/>
</g>
<polyline points="49.8,378.9 67.6,343.5 97.8,343.5 115.5,378.9" fill="none" stroke="#c8c8c8" stroke-width="0.9" stroke-dasharray="2.2 1.6"/>
<line x1="49.8" y1="378.9" x2="115.5" y2="378.9" stroke="#c8c8c8" stroke-width="0.9" stroke-dasharray="2.2 1.6"/>
<polygon points="82.2,371.9 83.96,376.47 88.86,376.74 85.05,379.83 86.31,384.56 82.2,381.9 78.09,384.56 79.35,379.83 75.54,376.74 80.44,376.47" fill="#1a78ff" stroke="#fff" stroke-width="1.4" stroke-linejoin="miter"/>
<text x="35.9" y="336.5" font-size="8.8" fill="#f6f6f6" stroke="#f6f6f6" stroke-width="0.2" font-family='"Liberation Sans", sans-serif' textLength="96.5" lengthAdjust="spacingAndGlyphs">f=193.185 THz with LCP</text>
<text x="36.6" y="382.8" font-size="10.6" fill="#1ea2e6" text-anchor="start" font-family='"Liberation Sans", sans-serif' font-weight="normal" font-style="normal" stroke="#1ea2e6" stroke-width="0.18" >A</text>
<text x="123.4" y="382.8" font-size="10.6" fill="#ee4f8c" text-anchor="start" font-family='"Liberation Sans", sans-serif' font-weight="normal" font-style="normal" stroke="#ee4f8c" stroke-width="0.18" >B</text>
<defs><linearGradient id="cbHot" x1="0" x2="1"><stop offset="0" stop-color="#000"/><stop offset="0.25" stop-color="#5a0000"/><stop offset="0.5" stop-color="#e81400"/><stop offset="0.75" stop-color="#ff8200"/><stop offset="1" stop-color="#ffeb28"/></linearGradient></defs>
<rect x="49" y="408" width="66.5" height="6" fill="url(#cbHot)"/>
<text x="41.8" y="414.1" font-size="8.6" fill="#222" text-anchor="middle" font-family='"Liberation Sans", sans-serif' font-weight="normal" font-style="normal" stroke="#222" stroke-width="0.18" >0</text>
<text x="118.5" y="414.1" font-size="8.6" fill="#222" text-anchor="start" font-family='"Liberation Sans", sans-serif' font-weight="normal" font-style="normal" stroke="#222" stroke-width="0.18" >Max</text>
<text x="84.5" y="425.4" font-size="8.8" fill="#222" text-anchor="middle" font-family='"Liberation Sans", sans-serif' font-weight="normal" font-style="normal" stroke="#222" stroke-width="0.18" >Amplitude (H)</text>
<text x="158" y="234.6" font-size="18" fill="#111" text-anchor="start" font-family='"Liberation Sans", sans-serif' font-weight="normal" font-style="normal" stroke="#111" stroke-width="0.18" >(e)</text>
<line x1="194.8" y1="393.4" x2="197" y2="393.4" stroke="#000" stroke-width="1.2"/>
<text x="193" y="396.4" font-size="8.8" fill="#222" text-anchor="end" font-family='"Liberation Sans", sans-serif' font-weight="normal" font-style="normal" stroke="#222" stroke-width="0.18" >0.000</text>
<line x1="195.8" y1="379.16" x2="197" y2="379.16" stroke="#000" stroke-width="1"/>
<line x1="194.8" y1="364.92" x2="197" y2="364.92" stroke="#000" stroke-width="1.2"/>
<text x="193" y="367.92" font-size="8.8" fill="#222" text-anchor="end" font-family='"Liberation Sans", sans-serif' font-weight="normal" font-style="normal" stroke="#222" stroke-width="0.18" >0.002</text>
<line x1="195.8" y1="350.68" x2="197" y2="350.68" stroke="#000" stroke-width="1"/>
<line x1="194.8" y1="336.44" x2="197" y2="336.44" stroke="#000" stroke-width="1.2"/>
<text x="193" y="339.44" font-size="8.8" fill="#222" text-anchor="end" font-family='"Liberation Sans", sans-serif' font-weight="normal" font-style="normal" stroke="#222" stroke-width="0.18" >0.004</text>
<line x1="195.8" y1="322.2" x2="197" y2="322.2" stroke="#000" stroke-width="1"/>
<line x1="194.8" y1="307.96" x2="197" y2="307.96" stroke="#000" stroke-width="1.2"/>
<text x="193" y="310.96" font-size="8.8" fill="#222" text-anchor="end" font-family='"Liberation Sans", sans-serif' font-weight="normal" font-style="normal" stroke="#222" stroke-width="0.18" >0.006</text>
<line x1="195.8" y1="293.72" x2="197" y2="293.72" stroke="#000" stroke-width="1"/>
<line x1="194.8" y1="279.48" x2="197" y2="279.48" stroke="#000" stroke-width="1.2"/>
<text x="193" y="282.48" font-size="8.8" fill="#222" text-anchor="end" font-family='"Liberation Sans", sans-serif' font-weight="normal" font-style="normal" stroke="#222" stroke-width="0.18" >0.008</text>
<line x1="195.8" y1="265.24" x2="197" y2="265.24" stroke="#000" stroke-width="1"/>
<line x1="194.8" y1="251" x2="197" y2="251" stroke="#000" stroke-width="1.2"/>
<text x="193" y="254" font-size="8.8" fill="#222" text-anchor="end" font-family='"Liberation Sans", sans-serif' font-weight="normal" font-style="normal" stroke="#222" stroke-width="0.18" >0.010</text>
<line x1="197" y1="393.4" x2="197" y2="395.6" stroke="#000" stroke-width="1.2"/>
<text x="197" y="404.4" font-size="8.8" fill="#222" text-anchor="middle" font-family='"Liberation Sans", sans-serif' font-weight="normal" font-style="normal" stroke="#222" stroke-width="0.18" >192.0</text>
<line x1="211.38" y1="393.4" x2="211.38" y2="394.6" stroke="#000" stroke-width="1"/>
<line x1="225.76" y1="393.4" x2="225.76" y2="395.6" stroke="#000" stroke-width="1.2"/>
<text x="225.76" y="404.4" font-size="8.8" fill="#222" text-anchor="middle" font-family='"Liberation Sans", sans-serif' font-weight="normal" font-style="normal" stroke="#222" stroke-width="0.18" >192.5</text>
<line x1="240.14" y1="393.4" x2="240.14" y2="394.6" stroke="#000" stroke-width="1"/>
<line x1="254.52" y1="393.4" x2="254.52" y2="395.6" stroke="#000" stroke-width="1.2"/>
<text x="254.52" y="404.4" font-size="8.8" fill="#222" text-anchor="middle" font-family='"Liberation Sans", sans-serif' font-weight="normal" font-style="normal" stroke="#222" stroke-width="0.18" >193.0</text>
<line x1="268.9" y1="393.4" x2="268.9" y2="394.6" stroke="#000" stroke-width="1"/>
<line x1="283.28" y1="393.4" x2="283.28" y2="395.6" stroke="#000" stroke-width="1.2"/>
<text x="283.28" y="404.4" font-size="8.8" fill="#222" text-anchor="middle" font-family='"Liberation Sans", sans-serif' font-weight="normal" font-style="normal" stroke="#222" stroke-width="0.18" >193.5</text>
<line x1="297.66" y1="393.4" x2="297.66" y2="394.6" stroke="#000" stroke-width="1"/>
<line x1="312.04" y1="393.4" x2="312.04" y2="395.6" stroke="#000" stroke-width="1.2"/>
<text x="312.04" y="404.4" font-size="8.8" fill="#222" text-anchor="middle" font-family='"Liberation Sans", sans-serif' font-weight="normal" font-style="normal" stroke="#222" stroke-width="0.18" >194.0</text>
<line x1="326.42" y1="393.4" x2="326.42" y2="394.6" stroke="#000" stroke-width="1"/>
<line x1="340.8" y1="393.4" x2="340.8" y2="395.6" stroke="#000" stroke-width="1.2"/>
<text x="340.8" y="404.4" font-size="8.8" fill="#222" text-anchor="middle" font-family='"Liberation Sans", sans-serif' font-weight="normal" font-style="normal" stroke="#222" stroke-width="0.18" >194.5</text>
<text x="0" y="0" font-size="11.05" fill="#222" text-anchor="middle" font-family='"Liberation Sans", sans-serif' font-weight="normal" font-style="normal" stroke="#222" stroke-width="0.18" transform="translate(164.1,322) rotate(-90)">Amplitude (H)</text>
<text x="268.9" y="417.3" font-size="10.9" fill="#222" text-anchor="middle" font-family='"Liberation Sans", sans-serif' font-weight="normal" font-style="normal" stroke="#222" stroke-width="0.18" >Frequency (THz)</text>
<line x1="265.4" y1="252" x2="265.4" y2="393.4" stroke="#6a6a6a" stroke-width="0.9" stroke-dasharray="2.6 2.2"/>
<text x="267.4" y="247.9" font-size="8.9" fill="#222" text-anchor="middle" font-family='"Liberation Sans", sans-serif' font-weight="normal" font-style="normal" stroke="#222" stroke-width="0.18" >193.185</text>
<rect x="238.2" y="352.9" width="66.8" height="17.2" fill="#bcd9f1"/>
<rect x="238.2" y="372.6" width="66.8" height="17.1" fill="#e2c9e6"/>
<text x="246" y="364.7" font-size="8.8" font-style="italic" font-family='"Liberation Serif", serif' fill="#333" stroke="#333" stroke-width="0.2">Q</text>
<text x="252" y="366.7" font-size="5.6" font-style="italic" font-family='"Liberation Serif", serif' fill="#333" stroke="#333" stroke-width="0.2">A</text>
<text x="265.9" y="364.7" font-size="8.8" font-family='"Liberation Serif", serif' fill="#333" stroke="#333" stroke-width="0.2" textLength="9.3" lengthAdjust="spacingAndGlyphs">3.8</text>
<text x="282.6" y="364.7" font-size="8.8" font-family='"Liberation Serif", serif' fill="#333" stroke="#333" stroke-width="0.2" textLength="7.9" lengthAdjust="spacingAndGlyphs">10</text>
<text x="291.7" y="361.9" font-size="5.6" font-family='"Liberation Serif", serif' fill="#333" stroke="#333" stroke-width="0.2">2</text>
<path d="M277.4,359.7 L281.6,363.9 M281.6,359.7 L277.4,363.9" stroke="#333" stroke-width="0.85"/>
<rect x="257.8" y="360.9" width="5.0" height="1.0" fill="#333"/>
<rect x="257.8" y="363.2" width="5.0" height="1.0" fill="#333"/>
<text x="246" y="384.4" font-size="8.8" font-style="italic" font-family='"Liberation Serif", serif' fill="#333" stroke="#333" stroke-width="0.2">Q</text>
<text x="252" y="386.4" font-size="5.6" font-style="italic" font-family='"Liberation Serif", serif' fill="#333" stroke="#333" stroke-width="0.2">B</text>
<text x="265.9" y="384.4" font-size="8.8" font-family='"Liberation Serif", serif' fill="#333" stroke="#333" stroke-width="0.2" textLength="9.3" lengthAdjust="spacingAndGlyphs">3.7</text>
<text x="282.6" y="384.4" font-size="8.8" font-family='"Liberation Serif", serif' fill="#333" stroke="#333" stroke-width="0.2" textLength="7.9" lengthAdjust="spacingAndGlyphs">10</text>
<text x="291.7" y="381.6" font-size="5.6" font-family='"Liberation Serif", serif' fill="#333" stroke="#333" stroke-width="0.2">2</text>
<path d="M277.4,379.4 L281.6,383.6 M281.6,379.4 L277.4,383.6" stroke="#333" stroke-width="0.85"/>
<rect x="257.8" y="380.6" width="5.0" height="1.0" fill="#333"/>
<rect x="257.8" y="382.9" width="5.0" height="1.0" fill="#333"/>
<path d="M197,383.6 C198.25,383.05 201.97,381.47 204.5,380.3 C207.03,379.13 209.57,378.02 212.2,376.6 C214.83,375.18 217.6,373.82 220.3,371.8 C223,369.78 225.7,367.6 228.4,364.5 C231.1,361.4 234.08,357.38 236.5,353.2 C238.92,349.02 241.42,342.92 242.9,339.4 C244.38,335.88 244.42,334.92 245.4,332.1 C246.38,329.28 247.67,325.73 248.8,322.5 C249.93,319.27 250.97,316.27 252.2,312.7 C253.43,309.13 254.7,304.95 256.2,301.1 C257.7,297.25 260.02,292.3 261.2,289.6 C262.38,286.9 262.57,285.98 263.3,284.9 C264.03,283.82 264.82,283.1 265.6,283.1 C266.38,283.1 267.12,283.82 268,284.9 C268.88,285.98 269.58,286.87 270.9,289.6 C272.22,292.33 274.25,297.4 275.9,301.3 C277.55,305.2 279.05,309.12 280.8,313 C282.55,316.88 284,320.33 286.4,324.6 C288.8,328.87 292.93,335.35 295.2,338.6 C297.47,341.85 297.58,341.8 300,344.1 C302.42,346.4 306.47,350.05 309.7,352.4 C312.93,354.75 316.15,356.5 319.4,358.2 C322.65,359.9 325.72,361.23 329.2,362.6 C332.68,363.97 338.45,365.77 340.3,366.4" fill="none" stroke="#0f9cf0" stroke-width="1.6"/>
<path d="M197,373 C198.25,372.37 201.97,370.62 204.5,369.2 C207.03,367.78 209.57,366.23 212.2,364.5 C214.83,362.77 217.6,361.23 220.3,358.8 C223,356.37 225.7,353.4 228.4,349.9 C231.1,346.4 234.08,342.25 236.5,337.8 C238.92,333.35 241.35,327.38 242.9,323.2 C244.45,319.02 244.73,316.38 245.8,312.7 C246.87,309.02 248.15,304.95 249.3,301.1 C250.45,297.25 251.58,293.37 252.7,289.6 C253.82,285.83 255,282.02 256,278.5 C257,274.98 257.78,271.33 258.7,268.5 C259.62,265.67 260.7,263.2 261.5,261.5 C262.3,259.8 262.83,259.03 263.5,258.3 C264.17,257.57 264.83,257.1 265.5,257.1 C266.17,257.1 266.82,257.57 267.5,258.3 C268.18,259.03 268.68,259.55 269.6,261.5 C270.52,263.45 271.9,267 273,270 C274.1,273 275.2,276.17 276.2,279.5 C277.2,282.83 277.87,286.32 279,290 C280.13,293.68 281.65,297.75 283,301.6 C284.35,305.45 285.55,309.25 287.1,313.1 C288.65,316.95 290.47,321.28 292.3,324.7 C294.13,328.12 296.23,331.13 298.1,333.6 C299.97,336.07 301.57,337.52 303.5,339.5 C305.43,341.48 307.05,343.2 309.7,345.5 C312.35,347.8 316.15,351.1 319.4,353.3 C322.65,355.5 325.72,357.22 329.2,358.7 C332.68,360.18 338.45,361.62 340.3,362.2" fill="none" stroke="#f865f6" stroke-width="1.6"/>
<line x1="202.1" y1="262.8" x2="212.5" y2="262.8" stroke="#0f9cf0" stroke-width="1.6"/>
<line x1="202.1" y1="270.5" x2="212.5" y2="270.5" stroke="#f865f6" stroke-width="1.6"/>
<text x="216.6" y="265.1" font-size="6.5" fill="#333" text-anchor="start" font-family='"Liberation Sans", sans-serif' font-weight="normal" font-style="normal" stroke="#333" stroke-width="0.18" >A with RCP</text>
<text x="216.6" y="272.8" font-size="6.5" fill="#333" text-anchor="start" font-family='"Liberation Sans", sans-serif' font-weight="normal" font-style="normal" stroke="#333" stroke-width="0.18" >B with RCP</text>
<rect x="293.5" y="256.5" width="44" height="46.1" fill="#fff" stroke="#000" stroke-width="1.2"/>
<line x1="291.9" y1="256.5" x2="293.5" y2="256.5" stroke="#000" stroke-width="1"/>
<line x1="291.9" y1="302.6" x2="293.5" y2="302.6" stroke="#000" stroke-width="1"/>
<text x="291.3" y="258.5" font-size="5.6" fill="#222" text-anchor="end" font-family='"Liberation Sans", sans-serif' font-weight="normal" font-style="normal" stroke="#222" stroke-width="0.18" >1</text>
<text x="291.3" y="304.6" font-size="5.6" fill="#222" text-anchor="end" font-family='"Liberation Sans", sans-serif' font-weight="normal" font-style="normal" stroke="#222" stroke-width="0.18" >0</text>
<text x="0" y="0" font-size="6.3" fill="#222" text-anchor="middle" font-family='"Liberation Sans", sans-serif' font-weight="normal" font-style="normal" stroke="#222" stroke-width="0.18" transform="translate(286.2,279.55) rotate(-90)">Normalized</text>
<path d="M293.5,271.3 C293.87,271.56 294.97,272.4 295.7,272.86 C296.43,273.32 297.17,273.7 297.9,274.05 C298.63,274.4 299.37,274.69 300.1,274.95 C300.83,275.22 301.57,275.44 302.3,275.64 C303.03,275.84 303.77,276 304.5,276.16 C305.23,276.31 305.97,276.44 306.7,276.55 C307.43,276.67 308.17,276.76 308.9,276.85 C309.63,276.94 310.37,277.01 311.1,277.08 C311.83,277.15 312.57,277.2 313.3,277.25 C314.03,277.3 314.77,277.35 315.5,277.38 C316.23,277.42 316.97,277.46 317.7,277.48 C318.43,277.51 319.17,277.54 319.9,277.56 C320.63,277.58 321.37,277.6 322.1,277.62 C322.83,277.63 323.57,277.65 324.3,277.66 C325.03,277.67 325.77,277.69 326.5,277.69 C327.23,277.7 327.97,277.71 328.7,277.72 C329.43,277.73 330.17,277.73 330.9,277.74 C331.63,277.75 332.37,277.75 333.1,277.75 C333.83,277.76 334.57,277.76 335.3,277.77 C336.03,277.77 337.13,277.77 337.5,277.77" fill="none" stroke="#f865f6" stroke-width="1.5"/>
<path d="M293.5,288 C293.87,287.72 294.97,286.81 295.7,286.32 C296.43,285.82 297.17,285.41 297.9,285.04 C298.63,284.66 299.37,284.35 300.1,284.07 C300.83,283.78 301.57,283.55 302.3,283.33 C303.03,283.11 303.77,282.93 304.5,282.77 C305.23,282.61 305.97,282.47 306.7,282.34 C307.43,282.22 308.17,282.12 308.9,282.02 C309.63,281.93 310.37,281.85 311.1,281.78 C311.83,281.7 312.57,281.64 313.3,281.59 C314.03,281.53 314.77,281.49 315.5,281.45 C316.23,281.41 316.97,281.37 317.7,281.34 C318.43,281.31 319.17,281.28 319.9,281.26 C320.63,281.23 321.37,281.21 322.1,281.2 C322.83,281.18 323.57,281.16 324.3,281.15 C325.03,281.14 325.77,281.12 326.5,281.11 C327.23,281.1 327.97,281.09 328.7,281.09 C329.43,281.08 330.17,281.07 330.9,281.07 C331.63,281.06 332.37,281.05 333.1,281.05 C333.83,281.04 334.57,281.04 335.3,281.04 C336.03,281.03 337.13,281.03 337.5,281.03" fill="none" stroke="#0f9cf0" stroke-width="1.5"/>
<rect x="197" y="251" width="143.8" height="142.4" fill="none" stroke="#000" stroke-width="1.6"/>
<text x="342.6" y="234.6" font-size="18" fill="#111" text-anchor="start" font-family='"Liberation Sans", sans-serif' font-weight="normal" font-style="normal" stroke="#111" stroke-width="0.18" >(f)</text>
<line x1="385.1" y1="394.3" x2="387.3" y2="394.3" stroke="#000" stroke-width="1.2"/>
<text x="383.3" y="397.3" font-size="8.8" fill="#222" text-anchor="end" font-family='"Liberation Sans", sans-serif' font-weight="normal" font-style="normal" stroke="#222" stroke-width="0.18" >0.000</text>
<line x1="386.1" y1="379.97" x2="387.3" y2="379.97" stroke="#000" stroke-width="1"/>
<line x1="385.1" y1="365.64" x2="387.3" y2="365.64" stroke="#000" stroke-width="1.2"/>
<text x="383.3" y="368.64" font-size="8.8" fill="#222" text-anchor="end" font-family='"Liberation Sans", sans-serif' font-weight="normal" font-style="normal" stroke="#222" stroke-width="0.18" >0.002</text>
<line x1="386.1" y1="351.31" x2="387.3" y2="351.31" stroke="#000" stroke-width="1"/>
<line x1="385.1" y1="336.98" x2="387.3" y2="336.98" stroke="#000" stroke-width="1.2"/>
<text x="383.3" y="339.98" font-size="8.8" fill="#222" text-anchor="end" font-family='"Liberation Sans", sans-serif' font-weight="normal" font-style="normal" stroke="#222" stroke-width="0.18" >0.004</text>
<line x1="386.1" y1="322.65" x2="387.3" y2="322.65" stroke="#000" stroke-width="1"/>
<line x1="385.1" y1="308.32" x2="387.3" y2="308.32" stroke="#000" stroke-width="1.2"/>
<text x="383.3" y="311.32" font-size="8.8" fill="#222" text-anchor="end" font-family='"Liberation Sans", sans-serif' font-weight="normal" font-style="normal" stroke="#222" stroke-width="0.18" >0.006</text>
<line x1="386.1" y1="293.99" x2="387.3" y2="293.99" stroke="#000" stroke-width="1"/>
<line x1="385.1" y1="279.66" x2="387.3" y2="279.66" stroke="#000" stroke-width="1.2"/>
<text x="383.3" y="282.66" font-size="8.8" fill="#222" text-anchor="end" font-family='"Liberation Sans", sans-serif' font-weight="normal" font-style="normal" stroke="#222" stroke-width="0.18" >0.008</text>
<line x1="386.1" y1="265.33" x2="387.3" y2="265.33" stroke="#000" stroke-width="1"/>
<line x1="385.1" y1="251" x2="387.3" y2="251" stroke="#000" stroke-width="1.2"/>
<text x="383.3" y="254" font-size="8.8" fill="#222" text-anchor="end" font-family='"Liberation Sans", sans-serif' font-weight="normal" font-style="normal" stroke="#222" stroke-width="0.18" >0.010</text>
<line x1="387.3" y1="394.3" x2="387.3" y2="396.5" stroke="#000" stroke-width="1.2"/>
<text x="387.3" y="406" font-size="8.8" fill="#222" text-anchor="middle" font-family='"Liberation Sans", sans-serif' font-weight="normal" font-style="normal" stroke="#222" stroke-width="0.18" >192.0</text>
<line x1="401.68" y1="394.3" x2="401.68" y2="395.5" stroke="#000" stroke-width="1"/>
<line x1="416.06" y1="394.3" x2="416.06" y2="396.5" stroke="#000" stroke-width="1.2"/>
<text x="416.06" y="406" font-size="8.8" fill="#222" text-anchor="middle" font-family='"Liberation Sans", sans-serif' font-weight="normal" font-style="normal" stroke="#222" stroke-width="0.18" >192.5</text>
<line x1="430.44" y1="394.3" x2="430.44" y2="395.5" stroke="#000" stroke-width="1"/>
<line x1="444.82" y1="394.3" x2="444.82" y2="396.5" stroke="#000" stroke-width="1.2"/>
<text x="444.82" y="406" font-size="8.8" fill="#222" text-anchor="middle" font-family='"Liberation Sans", sans-serif' font-weight="normal" font-style="normal" stroke="#222" stroke-width="0.18" >193.0</text>
<line x1="459.2" y1="394.3" x2="459.2" y2="395.5" stroke="#000" stroke-width="1"/>
<line x1="473.58" y1="394.3" x2="473.58" y2="396.5" stroke="#000" stroke-width="1.2"/>
<text x="473.58" y="406" font-size="8.8" fill="#222" text-anchor="middle" font-family='"Liberation Sans", sans-serif' font-weight="normal" font-style="normal" stroke="#222" stroke-width="0.18" >193.5</text>
<line x1="487.96" y1="394.3" x2="487.96" y2="395.5" stroke="#000" stroke-width="1"/>
<line x1="502.34" y1="394.3" x2="502.34" y2="396.5" stroke="#000" stroke-width="1.2"/>
<text x="502.34" y="406" font-size="8.8" fill="#222" text-anchor="middle" font-family='"Liberation Sans", sans-serif' font-weight="normal" font-style="normal" stroke="#222" stroke-width="0.18" >194.0</text>
<line x1="516.72" y1="394.3" x2="516.72" y2="395.5" stroke="#000" stroke-width="1"/>
<line x1="531.1" y1="394.3" x2="531.1" y2="396.5" stroke="#000" stroke-width="1.2"/>
<text x="531.1" y="406" font-size="8.8" fill="#222" text-anchor="middle" font-family='"Liberation Sans", sans-serif' font-weight="normal" font-style="normal" stroke="#222" stroke-width="0.18" >194.5</text>
<text x="0" y="0" font-size="11.05" fill="#222" text-anchor="middle" font-family='"Liberation Sans", sans-serif' font-weight="normal" font-style="normal" stroke="#222" stroke-width="0.18" transform="translate(357.9,322.5) rotate(-90)">Amplitude (H)</text>
<text x="457.6" y="417.1" font-size="11" fill="#222" text-anchor="middle" font-family='"Liberation Sans", sans-serif' font-weight="normal" font-style="normal" stroke="#222" stroke-width="0.18" >Frequency (THz)</text>
<line x1="455.7" y1="252" x2="455.7" y2="394.3" stroke="#6a6a6a" stroke-width="0.9" stroke-dasharray="2.6 2.2"/>
<text x="457.7" y="247.9" font-size="8.9" fill="#222" text-anchor="middle" font-family='"Liberation Sans", sans-serif' font-weight="normal" font-style="normal" stroke="#222" stroke-width="0.18" >193.185</text>
<rect x="428.5" y="355.7" width="69.3" height="17.2" fill="#bcd9f1"/>
<rect x="428.5" y="375.4" width="69.3" height="17.1" fill="#e2c9e6"/>
<text x="436.9" y="367.5" font-size="8.8" font-style="italic" font-family='"Liberation Serif", serif' fill="#333" stroke="#333" stroke-width="0.2">Q</text>
<text x="442.9" y="369.5" font-size="5.6" font-style="italic" font-family='"Liberation Serif", serif' fill="#333" stroke="#333" stroke-width="0.2">A</text>
<text x="456.8" y="367.5" font-size="8.8" font-family='"Liberation Serif", serif' fill="#333" stroke="#333" stroke-width="0.2" textLength="9.3" lengthAdjust="spacingAndGlyphs">3.7</text>
<text x="474.8" y="367.5" font-size="8.8" font-family='"Liberation Serif", serif' fill="#333" stroke="#333" stroke-width="0.2" textLength="7.9" lengthAdjust="spacingAndGlyphs">10</text>
<text x="484.1" y="364.7" font-size="5.6" font-family='"Liberation Serif", serif' fill="#333" stroke="#333" stroke-width="0.2">2</text>
<path d="M469,362.5 L473.2,366.7 M473.2,362.5 L469,366.7" stroke="#333" stroke-width="0.85"/>
<rect x="449.6" y="363.7" width="5.0" height="1.0" fill="#333"/>
<rect x="449.6" y="366" width="5.0" height="1.0" fill="#333"/>
<text x="436.9" y="387.2" font-size="8.8" font-style="italic" font-family='"Liberation Serif", serif' fill="#333" stroke="#333" stroke-width="0.2">Q</text>
<text x="442.9" y="389.2" font-size="5.6" font-style="italic" font-family='"Liberation Serif", serif' fill="#333" stroke="#333" stroke-width="0.2">B</text>
<text x="456.8" y="387.2" font-size="8.8" font-family='"Liberation Serif", serif' fill="#333" stroke="#333" stroke-width="0.2" textLength="9.3" lengthAdjust="spacingAndGlyphs">3.8</text>
<text x="474.8" y="387.2" font-size="8.8" font-family='"Liberation Serif", serif' fill="#333" stroke="#333" stroke-width="0.2" textLength="7.9" lengthAdjust="spacingAndGlyphs">10</text>
<text x="484.1" y="384.4" font-size="5.6" font-family='"Liberation Serif", serif' fill="#333" stroke="#333" stroke-width="0.2">2</text>
<path d="M469,382.2 L473.2,386.4 M473.2,382.2 L469,386.4" stroke="#333" stroke-width="0.85"/>
<rect x="449.6" y="383.4" width="5.0" height="1.0" fill="#333"/>
<rect x="449.6" y="385.7" width="5.0" height="1.0" fill="#333"/>
<path d="M387.3,384.14 C388.55,383.59 392.27,382.01 394.8,380.84 C397.33,379.67 399.87,378.56 402.5,377.14 C405.13,375.72 407.9,374.36 410.6,372.34 C413.3,370.32 416,368.14 418.7,365.04 C421.4,361.94 424.38,357.92 426.8,353.74 C429.22,349.56 431.72,343.46 433.2,339.94 C434.68,336.42 434.72,335.46 435.7,332.64 C436.68,329.82 437.97,326.27 439.1,323.04 C440.23,319.81 441.27,316.81 442.5,313.24 C443.73,309.67 445,305.49 446.5,301.64 C448,297.79 450.32,292.84 451.5,290.14 C452.68,287.44 452.87,286.52 453.6,285.44 C454.33,284.36 455.12,283.64 455.9,283.64 C456.68,283.64 457.42,284.36 458.3,285.44 C459.18,286.52 459.88,287.41 461.2,290.14 C462.52,292.87 464.55,297.94 466.2,301.84 C467.85,305.74 469.35,309.66 471.1,313.54 C472.85,317.42 474.3,320.87 476.7,325.14 C479.1,329.41 483.23,335.89 485.5,339.14 C487.77,342.39 487.88,342.34 490.3,344.64 C492.72,346.94 496.77,350.59 500,352.94 C503.23,355.29 506.45,357.04 509.7,358.74 C512.95,360.44 516.02,361.77 519.5,363.14 C522.98,364.51 528.75,366.31 530.6,366.94" fill="none" stroke="#f865f6" stroke-width="1.6"/>
<path d="M387.3,373.54 C388.55,372.91 392.27,371.16 394.8,369.74 C397.33,368.32 399.87,366.77 402.5,365.04 C405.13,363.31 407.9,361.77 410.6,359.34 C413.3,356.91 416,353.94 418.7,350.44 C421.4,346.94 424.38,342.79 426.8,338.34 C429.22,333.89 431.65,327.92 433.2,323.74 C434.75,319.56 435.03,316.92 436.1,313.24 C437.17,309.56 438.45,305.49 439.6,301.64 C440.75,297.79 441.88,293.91 443,290.14 C444.12,286.37 445.3,282.56 446.3,279.04 C447.3,275.52 448.08,271.87 449,269.04 C449.92,266.21 451,263.74 451.8,262.04 C452.6,260.34 453.13,259.57 453.8,258.84 C454.47,258.11 455.13,257.64 455.8,257.64 C456.47,257.64 457.12,258.11 457.8,258.84 C458.48,259.57 458.98,260.09 459.9,262.04 C460.82,263.99 462.2,267.54 463.3,270.54 C464.4,273.54 465.5,276.71 466.5,280.04 C467.5,283.37 468.17,286.86 469.3,290.54 C470.43,294.22 471.95,298.29 473.3,302.14 C474.65,305.99 475.85,309.79 477.4,313.64 C478.95,317.49 480.77,321.82 482.6,325.24 C484.43,328.66 486.53,331.67 488.4,334.14 C490.27,336.61 491.87,338.06 493.8,340.04 C495.73,342.02 497.35,343.74 500,346.04 C502.65,348.34 506.45,351.64 509.7,353.84 C512.95,356.04 516.02,357.76 519.5,359.24 C522.98,360.72 528.75,362.16 530.6,362.74" fill="none" stroke="#0f9cf0" stroke-width="1.6"/>
<line x1="391.5" y1="263.4" x2="402.7" y2="263.4" stroke="#0f9cf0" stroke-width="1.6"/>
<line x1="391.5" y1="272.7" x2="402.7" y2="272.7" stroke="#f865f6" stroke-width="1.6"/>
<text x="405.3" y="265.8" font-size="7.4" fill="#333" text-anchor="start" font-family='"Liberation Sans", sans-serif' font-weight="normal" font-style="normal" stroke="#333" stroke-width="0.18" >A with LCP</text>
<text x="405.3" y="275.3" font-size="7.4" fill="#333" text-anchor="start" font-family='"Liberation Sans", sans-serif' font-weight="normal" font-style="normal" stroke="#333" stroke-width="0.18" >B with LCP</text>
<rect x="483.8" y="256.5" width="46" height="47.1" fill="#fff" stroke="#000" stroke-width="1.2"/>
<line x1="482.2" y1="256.5" x2="483.8" y2="256.5" stroke="#000" stroke-width="1"/>
<line x1="482.2" y1="303.6" x2="483.8" y2="303.6" stroke="#000" stroke-width="1"/>
<text x="481.6" y="258.5" font-size="5.6" fill="#222" text-anchor="end" font-family='"Liberation Sans", sans-serif' font-weight="normal" font-style="normal" stroke="#222" stroke-width="0.18" >1</text>
<text x="481.6" y="305.6" font-size="5.6" fill="#222" text-anchor="end" font-family='"Liberation Sans", sans-serif' font-weight="normal" font-style="normal" stroke="#222" stroke-width="0.18" >0</text>
<text x="0" y="0" font-size="6.3" fill="#222" text-anchor="middle" font-family='"Liberation Sans", sans-serif' font-weight="normal" font-style="normal" stroke="#222" stroke-width="0.18" transform="translate(476.5,280.05) rotate(-90)">Normalized</text>
<path d="M483.8,271.3 C484.18,271.56 485.33,272.4 486.1,272.86 C486.87,273.32 487.63,273.7 488.4,274.05 C489.17,274.4 489.93,274.69 490.7,274.95 C491.47,275.22 492.23,275.44 493,275.64 C493.77,275.84 494.53,276 495.3,276.16 C496.07,276.31 496.83,276.44 497.6,276.55 C498.37,276.67 499.13,276.76 499.9,276.85 C500.67,276.94 501.43,277.01 502.2,277.08 C502.97,277.15 503.73,277.2 504.5,277.25 C505.27,277.3 506.03,277.35 506.8,277.38 C507.57,277.42 508.33,277.46 509.1,277.48 C509.87,277.51 510.63,277.54 511.4,277.56 C512.17,277.58 512.93,277.6 513.7,277.62 C514.47,277.63 515.23,277.65 516,277.66 C516.77,277.67 517.53,277.69 518.3,277.69 C519.07,277.7 519.83,277.71 520.6,277.72 C521.37,277.73 522.13,277.73 522.9,277.74 C523.67,277.75 524.43,277.75 525.2,277.75 C525.97,277.76 526.73,277.76 527.5,277.77 C528.27,277.77 529.42,277.77 529.8,277.77" fill="none" stroke="#0f9cf0" stroke-width="1.5"/>
<path d="M483.8,288 C484.18,287.72 485.33,286.81 486.1,286.32 C486.87,285.82 487.63,285.41 488.4,285.04 C489.17,284.66 489.93,284.35 490.7,284.07 C491.47,283.78 492.23,283.55 493,283.33 C493.77,283.11 494.53,282.93 495.3,282.77 C496.07,282.61 496.83,282.47 497.6,282.34 C498.37,282.22 499.13,282.12 499.9,282.02 C500.67,281.93 501.43,281.85 502.2,281.78 C502.97,281.7 503.73,281.64 504.5,281.59 C505.27,281.53 506.03,281.49 506.8,281.45 C507.57,281.41 508.33,281.37 509.1,281.34 C509.87,281.31 510.63,281.28 511.4,281.26 C512.17,281.23 512.93,281.21 513.7,281.2 C514.47,281.18 515.23,281.16 516,281.15 C516.77,281.14 517.53,281.12 518.3,281.11 C519.07,281.1 519.83,281.09 520.6,281.09 C521.37,281.08 522.13,281.07 522.9,281.07 C523.67,281.06 524.43,281.05 525.2,281.05 C525.97,281.04 526.73,281.04 527.5,281.04 C528.27,281.03 529.42,281.03 529.8,281.03" fill="none" stroke="#f865f6" stroke-width="1.5"/>
<rect x="387.3" y="251" width="143.8" height="143.3" fill="none" stroke="#000" stroke-width="1.6"/>
</svg></body></html>
